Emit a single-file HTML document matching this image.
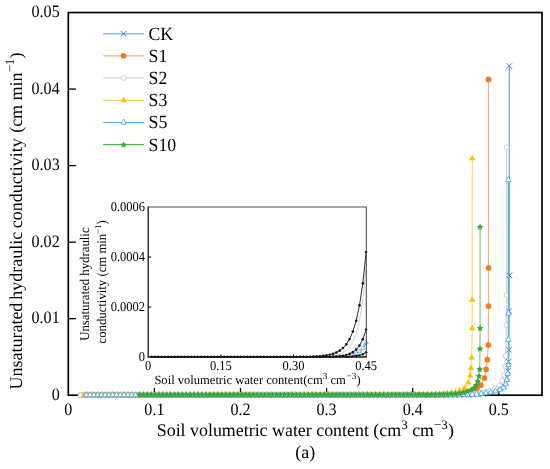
<!DOCTYPE html>
<html><head><meta charset="utf-8"><title>Unsaturated hydraulic conductivity</title>
<style>html,body{margin:0;padding:0;background:#fff;}svg{display:block;}text{font-family:"Liberation Serif",serif;fill:#000;text-rendering:geometricPrecision;}</style>
</head><body>
<svg width="550" height="469" viewBox="0 0 550 469">
<rect x="0" y="0" width="550" height="469" fill="#fff"/>
<g id="axes" stroke="#000" stroke-width="1.7" fill="none">
<rect x="68.3" y="12.55" width="473.70" height="382.65"/>
<line x1="68.3" y1="318.67" x2="75.90" y2="318.67" stroke-width="1.3"/>
<line x1="68.3" y1="242.14" x2="75.90" y2="242.14" stroke-width="1.3"/>
<line x1="68.3" y1="165.61" x2="75.90" y2="165.61" stroke-width="1.3"/>
<line x1="68.3" y1="89.08" x2="75.90" y2="89.08" stroke-width="1.3"/>
<line x1="154.40" y1="395.2" x2="154.40" y2="388.00" stroke-width="1.3"/>
<line x1="240.50" y1="395.2" x2="240.50" y2="388.00" stroke-width="1.3"/>
<line x1="326.60" y1="395.2" x2="326.60" y2="388.00" stroke-width="1.3"/>
<line x1="412.70" y1="395.2" x2="412.70" y2="388.00" stroke-width="1.3"/>
<line x1="498.80" y1="395.2" x2="498.80" y2="388.00" stroke-width="1.3"/>
</g>
<g id="series">
<path d="M88.00 395.10L91.73 395.10L95.47 395.10L99.21 395.10L102.97 395.10L106.73 395.10L110.51 395.10L114.29 395.10L118.08 395.10L121.88 395.10L125.69 395.10L129.51 395.10L133.34 395.10L137.18 395.10L141.03 395.10L144.88 395.10L148.74 395.10L152.62 395.10L156.50 395.10L160.39 395.10L164.29 395.10L168.20 395.10L172.12 395.10L176.05 395.10L179.98 395.10L183.93 395.10L187.88 395.10L191.85 395.10L195.82 395.10L199.80 395.10L203.79 395.10L207.79 395.10L211.80 395.10L215.81 395.10L219.84 395.10L223.88 395.10L227.92 395.10L231.97 395.10L236.04 395.10L240.11 395.10L244.19 395.10L248.28 395.10L252.38 395.10L256.48 395.10L260.60 395.10L264.73 395.10L268.86 395.10L273.00 395.10L277.16 395.10L281.32 395.10L285.49 395.10L289.67 395.10L293.86 395.10L298.06 395.10L302.26 395.10L306.48 395.10L310.70 395.10L314.94 395.10L319.18 395.10L323.43 395.10L327.69 395.10L331.96 395.10L336.24 395.10L340.53 395.10L344.83 395.10L349.13 395.10L353.45 395.10L357.77 395.10L362.10 395.10L366.45 395.10L370.80 395.10L375.16 395.10L379.53 395.10L383.90 395.10L388.29 395.10L392.69 395.10L397.09 395.10L401.51 395.10L405.93 395.10L410.36 395.10L414.80 395.09L419.25 395.09L423.71 395.09L428.18 395.08L432.66 395.07L437.14 395.06L441.64 395.05L446.14 395.02L450.65 394.99L455.18 394.94L459.71 394.87L464.25 394.77L468.80 394.63L473.36 394.43L477.92 394.13L482.50 393.70L487.10 392.90L491.80 391.80L496.40 390.40L500.80 388.50L504.00 385.90L505.80 382.40L507.00 377.60L507.90 370.90L508.60 361.60L509.00 349.80L509.20 311.00L509.30 275.30L509.30 66.00" fill="none" stroke="#6aa5e0" stroke-width="1.2" stroke-linejoin="round"/>
<path d="M85.20 392.30L90.80 397.90M85.20 397.90L90.80 392.30" stroke="#3674cc" stroke-width="0.95" fill="none"/><path d="M88.93 392.30L94.53 397.90M88.93 397.90L94.53 392.30" stroke="#3674cc" stroke-width="0.95" fill="none"/><path d="M92.67 392.30L98.27 397.90M92.67 397.90L98.27 392.30" stroke="#3674cc" stroke-width="0.95" fill="none"/><path d="M96.41 392.30L102.01 397.90M96.41 397.90L102.01 392.30" stroke="#3674cc" stroke-width="0.95" fill="none"/><path d="M100.17 392.30L105.77 397.90M100.17 397.90L105.77 392.30" stroke="#3674cc" stroke-width="0.95" fill="none"/><path d="M103.93 392.30L109.53 397.90M103.93 397.90L109.53 392.30" stroke="#3674cc" stroke-width="0.95" fill="none"/><path d="M107.71 392.30L113.31 397.90M107.71 397.90L113.31 392.30" stroke="#3674cc" stroke-width="0.95" fill="none"/><path d="M111.49 392.30L117.09 397.90M111.49 397.90L117.09 392.30" stroke="#3674cc" stroke-width="0.95" fill="none"/><path d="M115.28 392.30L120.88 397.90M115.28 397.90L120.88 392.30" stroke="#3674cc" stroke-width="0.95" fill="none"/><path d="M119.08 392.30L124.68 397.90M119.08 397.90L124.68 392.30" stroke="#3674cc" stroke-width="0.95" fill="none"/><path d="M122.89 392.30L128.49 397.90M122.89 397.90L128.49 392.30" stroke="#3674cc" stroke-width="0.95" fill="none"/><path d="M126.71 392.30L132.31 397.90M126.71 397.90L132.31 392.30" stroke="#3674cc" stroke-width="0.95" fill="none"/><path d="M130.54 392.30L136.14 397.90M130.54 397.90L136.14 392.30" stroke="#3674cc" stroke-width="0.95" fill="none"/><path d="M134.38 392.30L139.98 397.90M134.38 397.90L139.98 392.30" stroke="#3674cc" stroke-width="0.95" fill="none"/><path d="M138.23 392.30L143.83 397.90M138.23 397.90L143.83 392.30" stroke="#3674cc" stroke-width="0.95" fill="none"/><path d="M142.08 392.30L147.68 397.90M142.08 397.90L147.68 392.30" stroke="#3674cc" stroke-width="0.95" fill="none"/><path d="M145.94 392.30L151.54 397.90M145.94 397.90L151.54 392.30" stroke="#3674cc" stroke-width="0.95" fill="none"/><path d="M149.82 392.30L155.42 397.90M149.82 397.90L155.42 392.30" stroke="#3674cc" stroke-width="0.95" fill="none"/><path d="M153.70 392.30L159.30 397.90M153.70 397.90L159.30 392.30" stroke="#3674cc" stroke-width="0.95" fill="none"/><path d="M157.59 392.30L163.19 397.90M157.59 397.90L163.19 392.30" stroke="#3674cc" stroke-width="0.95" fill="none"/><path d="M161.49 392.30L167.09 397.90M161.49 397.90L167.09 392.30" stroke="#3674cc" stroke-width="0.95" fill="none"/><path d="M165.40 392.30L171.00 397.90M165.40 397.90L171.00 392.30" stroke="#3674cc" stroke-width="0.95" fill="none"/><path d="M169.32 392.30L174.92 397.90M169.32 397.90L174.92 392.30" stroke="#3674cc" stroke-width="0.95" fill="none"/><path d="M173.25 392.30L178.85 397.90M173.25 397.90L178.85 392.30" stroke="#3674cc" stroke-width="0.95" fill="none"/><path d="M177.18 392.30L182.78 397.90M177.18 397.90L182.78 392.30" stroke="#3674cc" stroke-width="0.95" fill="none"/><path d="M181.13 392.30L186.73 397.90M181.13 397.90L186.73 392.30" stroke="#3674cc" stroke-width="0.95" fill="none"/><path d="M185.08 392.30L190.68 397.90M185.08 397.90L190.68 392.30" stroke="#3674cc" stroke-width="0.95" fill="none"/><path d="M189.05 392.30L194.65 397.90M189.05 397.90L194.65 392.30" stroke="#3674cc" stroke-width="0.95" fill="none"/><path d="M193.02 392.30L198.62 397.90M193.02 397.90L198.62 392.30" stroke="#3674cc" stroke-width="0.95" fill="none"/><path d="M197.00 392.30L202.60 397.90M197.00 397.90L202.60 392.30" stroke="#3674cc" stroke-width="0.95" fill="none"/><path d="M200.99 392.30L206.59 397.90M200.99 397.90L206.59 392.30" stroke="#3674cc" stroke-width="0.95" fill="none"/><path d="M204.99 392.30L210.59 397.90M204.99 397.90L210.59 392.30" stroke="#3674cc" stroke-width="0.95" fill="none"/><path d="M209.00 392.30L214.60 397.90M209.00 397.90L214.60 392.30" stroke="#3674cc" stroke-width="0.95" fill="none"/><path d="M213.01 392.30L218.61 397.90M213.01 397.90L218.61 392.30" stroke="#3674cc" stroke-width="0.95" fill="none"/><path d="M217.04 392.30L222.64 397.90M217.04 397.90L222.64 392.30" stroke="#3674cc" stroke-width="0.95" fill="none"/><path d="M221.08 392.30L226.68 397.90M221.08 397.90L226.68 392.30" stroke="#3674cc" stroke-width="0.95" fill="none"/><path d="M225.12 392.30L230.72 397.90M225.12 397.90L230.72 392.30" stroke="#3674cc" stroke-width="0.95" fill="none"/><path d="M229.17 392.30L234.77 397.90M229.17 397.90L234.77 392.30" stroke="#3674cc" stroke-width="0.95" fill="none"/><path d="M233.24 392.30L238.84 397.90M233.24 397.90L238.84 392.30" stroke="#3674cc" stroke-width="0.95" fill="none"/><path d="M237.31 392.30L242.91 397.90M237.31 397.90L242.91 392.30" stroke="#3674cc" stroke-width="0.95" fill="none"/><path d="M241.39 392.30L246.99 397.90M241.39 397.90L246.99 392.30" stroke="#3674cc" stroke-width="0.95" fill="none"/><path d="M245.48 392.30L251.08 397.90M245.48 397.90L251.08 392.30" stroke="#3674cc" stroke-width="0.95" fill="none"/><path d="M249.58 392.30L255.18 397.90M249.58 397.90L255.18 392.30" stroke="#3674cc" stroke-width="0.95" fill="none"/><path d="M253.68 392.30L259.28 397.90M253.68 397.90L259.28 392.30" stroke="#3674cc" stroke-width="0.95" fill="none"/><path d="M257.80 392.30L263.40 397.90M257.80 397.90L263.40 392.30" stroke="#3674cc" stroke-width="0.95" fill="none"/><path d="M261.93 392.30L267.53 397.90M261.93 397.90L267.53 392.30" stroke="#3674cc" stroke-width="0.95" fill="none"/><path d="M266.06 392.30L271.66 397.90M266.06 397.90L271.66 392.30" stroke="#3674cc" stroke-width="0.95" fill="none"/><path d="M270.20 392.30L275.80 397.90M270.20 397.90L275.80 392.30" stroke="#3674cc" stroke-width="0.95" fill="none"/><path d="M274.36 392.30L279.96 397.90M274.36 397.90L279.96 392.30" stroke="#3674cc" stroke-width="0.95" fill="none"/><path d="M278.52 392.30L284.12 397.90M278.52 397.90L284.12 392.30" stroke="#3674cc" stroke-width="0.95" fill="none"/><path d="M282.69 392.30L288.29 397.90M282.69 397.90L288.29 392.30" stroke="#3674cc" stroke-width="0.95" fill="none"/><path d="M286.87 392.30L292.47 397.90M286.87 397.90L292.47 392.30" stroke="#3674cc" stroke-width="0.95" fill="none"/><path d="M291.06 392.30L296.66 397.90M291.06 397.90L296.66 392.30" stroke="#3674cc" stroke-width="0.95" fill="none"/><path d="M295.26 392.30L300.86 397.90M295.26 397.90L300.86 392.30" stroke="#3674cc" stroke-width="0.95" fill="none"/><path d="M299.46 392.30L305.06 397.90M299.46 397.90L305.06 392.30" stroke="#3674cc" stroke-width="0.95" fill="none"/><path d="M303.68 392.30L309.28 397.90M303.68 397.90L309.28 392.30" stroke="#3674cc" stroke-width="0.95" fill="none"/><path d="M307.90 392.30L313.50 397.90M307.90 397.90L313.50 392.30" stroke="#3674cc" stroke-width="0.95" fill="none"/><path d="M312.14 392.30L317.74 397.90M312.14 397.90L317.74 392.30" stroke="#3674cc" stroke-width="0.95" fill="none"/><path d="M316.38 392.30L321.98 397.90M316.38 397.90L321.98 392.30" stroke="#3674cc" stroke-width="0.95" fill="none"/><path d="M320.63 392.30L326.23 397.90M320.63 397.90L326.23 392.30" stroke="#3674cc" stroke-width="0.95" fill="none"/><path d="M324.89 392.30L330.49 397.90M324.89 397.90L330.49 392.30" stroke="#3674cc" stroke-width="0.95" fill="none"/><path d="M329.16 392.30L334.76 397.90M329.16 397.90L334.76 392.30" stroke="#3674cc" stroke-width="0.95" fill="none"/><path d="M333.44 392.30L339.04 397.90M333.44 397.90L339.04 392.30" stroke="#3674cc" stroke-width="0.95" fill="none"/><path d="M337.73 392.30L343.33 397.90M337.73 397.90L343.33 392.30" stroke="#3674cc" stroke-width="0.95" fill="none"/><path d="M342.03 392.30L347.63 397.90M342.03 397.90L347.63 392.30" stroke="#3674cc" stroke-width="0.95" fill="none"/><path d="M346.33 392.30L351.93 397.90M346.33 397.90L351.93 392.30" stroke="#3674cc" stroke-width="0.95" fill="none"/><path d="M350.65 392.30L356.25 397.90M350.65 397.90L356.25 392.30" stroke="#3674cc" stroke-width="0.95" fill="none"/><path d="M354.97 392.30L360.57 397.90M354.97 397.90L360.57 392.30" stroke="#3674cc" stroke-width="0.95" fill="none"/><path d="M359.30 392.30L364.90 397.90M359.30 397.90L364.90 392.30" stroke="#3674cc" stroke-width="0.95" fill="none"/><path d="M363.65 392.30L369.25 397.90M363.65 397.90L369.25 392.30" stroke="#3674cc" stroke-width="0.95" fill="none"/><path d="M368.00 392.30L373.60 397.90M368.00 397.90L373.60 392.30" stroke="#3674cc" stroke-width="0.95" fill="none"/><path d="M372.36 392.30L377.96 397.90M372.36 397.90L377.96 392.30" stroke="#3674cc" stroke-width="0.95" fill="none"/><path d="M376.73 392.30L382.33 397.90M376.73 397.90L382.33 392.30" stroke="#3674cc" stroke-width="0.95" fill="none"/><path d="M381.10 392.30L386.70 397.90M381.10 397.90L386.70 392.30" stroke="#3674cc" stroke-width="0.95" fill="none"/><path d="M385.49 392.30L391.09 397.90M385.49 397.90L391.09 392.30" stroke="#3674cc" stroke-width="0.95" fill="none"/><path d="M389.89 392.30L395.49 397.90M389.89 397.90L395.49 392.30" stroke="#3674cc" stroke-width="0.95" fill="none"/><path d="M394.29 392.30L399.89 397.90M394.29 397.90L399.89 392.30" stroke="#3674cc" stroke-width="0.95" fill="none"/><path d="M398.71 392.30L404.31 397.90M398.71 397.90L404.31 392.30" stroke="#3674cc" stroke-width="0.95" fill="none"/><path d="M403.13 392.30L408.73 397.90M403.13 397.90L408.73 392.30" stroke="#3674cc" stroke-width="0.95" fill="none"/><path d="M407.56 392.30L413.16 397.90M407.56 397.90L413.16 392.30" stroke="#3674cc" stroke-width="0.95" fill="none"/><path d="M412.00 392.29L417.60 397.89M412.00 397.89L417.60 392.29" stroke="#3674cc" stroke-width="0.95" fill="none"/><path d="M416.45 392.29L422.05 397.89M416.45 397.89L422.05 392.29" stroke="#3674cc" stroke-width="0.95" fill="none"/><path d="M420.91 392.29L426.51 397.89M420.91 397.89L426.51 392.29" stroke="#3674cc" stroke-width="0.95" fill="none"/><path d="M425.38 392.28L430.98 397.88M425.38 397.88L430.98 392.28" stroke="#3674cc" stroke-width="0.95" fill="none"/><path d="M429.86 392.27L435.46 397.87M429.86 397.87L435.46 392.27" stroke="#3674cc" stroke-width="0.95" fill="none"/><path d="M434.34 392.26L439.94 397.86M434.34 397.86L439.94 392.26" stroke="#3674cc" stroke-width="0.95" fill="none"/><path d="M438.84 392.25L444.44 397.85M438.84 397.85L444.44 392.25" stroke="#3674cc" stroke-width="0.95" fill="none"/><path d="M443.34 392.22L448.94 397.82M443.34 397.82L448.94 392.22" stroke="#3674cc" stroke-width="0.95" fill="none"/><path d="M447.85 392.19L453.45 397.79M447.85 397.79L453.45 392.19" stroke="#3674cc" stroke-width="0.95" fill="none"/><path d="M452.38 392.14L457.98 397.74M452.38 397.74L457.98 392.14" stroke="#3674cc" stroke-width="0.95" fill="none"/><path d="M456.91 392.07L462.51 397.67M456.91 397.67L462.51 392.07" stroke="#3674cc" stroke-width="0.95" fill="none"/><path d="M461.45 391.97L467.05 397.57M461.45 397.57L467.05 391.97" stroke="#3674cc" stroke-width="0.95" fill="none"/><path d="M466.00 391.83L471.60 397.43M466.00 397.43L471.60 391.83" stroke="#3674cc" stroke-width="0.95" fill="none"/><path d="M470.56 391.63L476.16 397.23M470.56 397.23L476.16 391.63" stroke="#3674cc" stroke-width="0.95" fill="none"/><path d="M475.12 391.33L480.72 396.93M475.12 396.93L480.72 391.33" stroke="#3674cc" stroke-width="0.95" fill="none"/><path d="M479.70 390.90L485.30 396.50M479.70 396.50L485.30 390.90" stroke="#3674cc" stroke-width="0.95" fill="none"/><path d="M484.30 390.10L489.90 395.70M484.30 395.70L489.90 390.10" stroke="#3674cc" stroke-width="0.95" fill="none"/><path d="M489.00 389.00L494.60 394.60M489.00 394.60L494.60 389.00" stroke="#3674cc" stroke-width="0.95" fill="none"/><path d="M493.60 387.60L499.20 393.20M493.60 393.20L499.20 387.60" stroke="#3674cc" stroke-width="0.95" fill="none"/><path d="M498.00 385.70L503.60 391.30M498.00 391.30L503.60 385.70" stroke="#3674cc" stroke-width="0.95" fill="none"/><path d="M501.20 383.10L506.80 388.70M501.20 388.70L506.80 383.10" stroke="#3674cc" stroke-width="0.95" fill="none"/><path d="M503.00 379.60L508.60 385.20M503.00 385.20L508.60 379.60" stroke="#3674cc" stroke-width="0.95" fill="none"/><path d="M504.20 374.80L509.80 380.40M504.20 380.40L509.80 374.80" stroke="#3674cc" stroke-width="0.95" fill="none"/><path d="M505.10 368.10L510.70 373.70M505.10 373.70L510.70 368.10" stroke="#3674cc" stroke-width="0.95" fill="none"/><path d="M505.80 358.80L511.40 364.40M505.80 364.40L511.40 358.80" stroke="#3674cc" stroke-width="0.95" fill="none"/><path d="M506.20 347.00L511.80 352.60M506.20 352.60L511.80 347.00" stroke="#3674cc" stroke-width="0.95" fill="none"/><path d="M506.40 308.20L512.00 313.80M506.40 313.80L512.00 308.20" stroke="#3674cc" stroke-width="0.95" fill="none"/><path d="M506.50 272.50L512.10 278.10M506.50 278.10L512.10 272.50" stroke="#3674cc" stroke-width="0.95" fill="none"/><path d="M506.50 63.20L512.10 68.80M506.50 68.80L512.10 63.20" stroke="#3674cc" stroke-width="0.95" fill="none"/>
<path d="M80.60 395.10L84.35 395.10L88.11 395.10L91.87 395.10L95.63 395.10L99.39 395.10L103.16 395.10L106.92 395.10L110.70 395.10L114.47 395.10L118.25 395.10L122.03 395.10L125.81 395.10L129.59 395.10L133.38 395.10L137.17 395.10L140.96 395.10L144.75 395.10L148.55 395.10L152.35 395.10L156.16 395.10L159.96 395.10L163.77 395.10L167.58 395.10L171.39 395.10L175.21 395.10L179.03 395.10L182.85 395.10L186.67 395.10L190.50 395.10L194.33 395.10L198.16 395.10L201.99 395.10L205.83 395.10L209.67 395.10L213.51 395.10L217.36 395.10L221.21 395.10L225.06 395.10L228.91 395.10L232.76 395.10L236.62 395.10L240.48 395.10L244.35 395.10L248.21 395.10L252.08 395.10L255.95 395.10L259.83 395.10L263.70 395.10L267.58 395.10L271.46 395.10L275.35 395.10L279.24 395.10L283.13 395.10L287.02 395.10L290.91 395.10L294.81 395.10L298.71 395.10L302.61 395.10L306.52 395.10L310.43 395.10L314.34 395.10L318.25 395.10L322.17 395.10L326.09 395.10L330.01 395.10L333.93 395.10L337.86 395.10L341.79 395.10L345.72 395.10L349.65 395.10L353.59 395.10L357.53 395.10L361.47 395.10L365.42 395.10L369.37 395.10L373.32 395.10L377.27 395.10L381.22 395.10L385.18 395.10L389.14 395.10L393.11 395.09L397.07 395.09L401.04 395.09L405.01 395.08L408.99 395.08L412.96 395.07L416.94 395.06L420.93 395.04L424.91 395.02L428.90 394.99L432.89 394.95L436.88 394.89L440.87 394.81L444.87 394.70L448.87 394.55L452.88 394.34L456.88 394.05L460.89 393.65L464.90 393.10L468.90 392.20L472.90 390.80L476.90 388.60L480.80 385.20L484.40 378.00L486.10 369.40L487.30 359.70L488.30 345.00L488.50 306.10L488.50 267.80L488.50 79.40" fill="none" stroke="#f6ac7c" stroke-width="1.2" stroke-linejoin="round"/>
<circle cx="80.60" cy="395.10" r="2.85" fill="#f47a20"/><circle cx="84.35" cy="395.10" r="2.85" fill="#f47a20"/><circle cx="88.11" cy="395.10" r="2.85" fill="#f47a20"/><circle cx="91.87" cy="395.10" r="2.85" fill="#f47a20"/><circle cx="95.63" cy="395.10" r="2.85" fill="#f47a20"/><circle cx="99.39" cy="395.10" r="2.85" fill="#f47a20"/><circle cx="103.16" cy="395.10" r="2.85" fill="#f47a20"/><circle cx="106.92" cy="395.10" r="2.85" fill="#f47a20"/><circle cx="110.70" cy="395.10" r="2.85" fill="#f47a20"/><circle cx="114.47" cy="395.10" r="2.85" fill="#f47a20"/><circle cx="118.25" cy="395.10" r="2.85" fill="#f47a20"/><circle cx="122.03" cy="395.10" r="2.85" fill="#f47a20"/><circle cx="125.81" cy="395.10" r="2.85" fill="#f47a20"/><circle cx="129.59" cy="395.10" r="2.85" fill="#f47a20"/><circle cx="133.38" cy="395.10" r="2.85" fill="#f47a20"/><circle cx="137.17" cy="395.10" r="2.85" fill="#f47a20"/><circle cx="140.96" cy="395.10" r="2.85" fill="#f47a20"/><circle cx="144.75" cy="395.10" r="2.85" fill="#f47a20"/><circle cx="148.55" cy="395.10" r="2.85" fill="#f47a20"/><circle cx="152.35" cy="395.10" r="2.85" fill="#f47a20"/><circle cx="156.16" cy="395.10" r="2.85" fill="#f47a20"/><circle cx="159.96" cy="395.10" r="2.85" fill="#f47a20"/><circle cx="163.77" cy="395.10" r="2.85" fill="#f47a20"/><circle cx="167.58" cy="395.10" r="2.85" fill="#f47a20"/><circle cx="171.39" cy="395.10" r="2.85" fill="#f47a20"/><circle cx="175.21" cy="395.10" r="2.85" fill="#f47a20"/><circle cx="179.03" cy="395.10" r="2.85" fill="#f47a20"/><circle cx="182.85" cy="395.10" r="2.85" fill="#f47a20"/><circle cx="186.67" cy="395.10" r="2.85" fill="#f47a20"/><circle cx="190.50" cy="395.10" r="2.85" fill="#f47a20"/><circle cx="194.33" cy="395.10" r="2.85" fill="#f47a20"/><circle cx="198.16" cy="395.10" r="2.85" fill="#f47a20"/><circle cx="201.99" cy="395.10" r="2.85" fill="#f47a20"/><circle cx="205.83" cy="395.10" r="2.85" fill="#f47a20"/><circle cx="209.67" cy="395.10" r="2.85" fill="#f47a20"/><circle cx="213.51" cy="395.10" r="2.85" fill="#f47a20"/><circle cx="217.36" cy="395.10" r="2.85" fill="#f47a20"/><circle cx="221.21" cy="395.10" r="2.85" fill="#f47a20"/><circle cx="225.06" cy="395.10" r="2.85" fill="#f47a20"/><circle cx="228.91" cy="395.10" r="2.85" fill="#f47a20"/><circle cx="232.76" cy="395.10" r="2.85" fill="#f47a20"/><circle cx="236.62" cy="395.10" r="2.85" fill="#f47a20"/><circle cx="240.48" cy="395.10" r="2.85" fill="#f47a20"/><circle cx="244.35" cy="395.10" r="2.85" fill="#f47a20"/><circle cx="248.21" cy="395.10" r="2.85" fill="#f47a20"/><circle cx="252.08" cy="395.10" r="2.85" fill="#f47a20"/><circle cx="255.95" cy="395.10" r="2.85" fill="#f47a20"/><circle cx="259.83" cy="395.10" r="2.85" fill="#f47a20"/><circle cx="263.70" cy="395.10" r="2.85" fill="#f47a20"/><circle cx="267.58" cy="395.10" r="2.85" fill="#f47a20"/><circle cx="271.46" cy="395.10" r="2.85" fill="#f47a20"/><circle cx="275.35" cy="395.10" r="2.85" fill="#f47a20"/><circle cx="279.24" cy="395.10" r="2.85" fill="#f47a20"/><circle cx="283.13" cy="395.10" r="2.85" fill="#f47a20"/><circle cx="287.02" cy="395.10" r="2.85" fill="#f47a20"/><circle cx="290.91" cy="395.10" r="2.85" fill="#f47a20"/><circle cx="294.81" cy="395.10" r="2.85" fill="#f47a20"/><circle cx="298.71" cy="395.10" r="2.85" fill="#f47a20"/><circle cx="302.61" cy="395.10" r="2.85" fill="#f47a20"/><circle cx="306.52" cy="395.10" r="2.85" fill="#f47a20"/><circle cx="310.43" cy="395.10" r="2.85" fill="#f47a20"/><circle cx="314.34" cy="395.10" r="2.85" fill="#f47a20"/><circle cx="318.25" cy="395.10" r="2.85" fill="#f47a20"/><circle cx="322.17" cy="395.10" r="2.85" fill="#f47a20"/><circle cx="326.09" cy="395.10" r="2.85" fill="#f47a20"/><circle cx="330.01" cy="395.10" r="2.85" fill="#f47a20"/><circle cx="333.93" cy="395.10" r="2.85" fill="#f47a20"/><circle cx="337.86" cy="395.10" r="2.85" fill="#f47a20"/><circle cx="341.79" cy="395.10" r="2.85" fill="#f47a20"/><circle cx="345.72" cy="395.10" r="2.85" fill="#f47a20"/><circle cx="349.65" cy="395.10" r="2.85" fill="#f47a20"/><circle cx="353.59" cy="395.10" r="2.85" fill="#f47a20"/><circle cx="357.53" cy="395.10" r="2.85" fill="#f47a20"/><circle cx="361.47" cy="395.10" r="2.85" fill="#f47a20"/><circle cx="365.42" cy="395.10" r="2.85" fill="#f47a20"/><circle cx="369.37" cy="395.10" r="2.85" fill="#f47a20"/><circle cx="373.32" cy="395.10" r="2.85" fill="#f47a20"/><circle cx="377.27" cy="395.10" r="2.85" fill="#f47a20"/><circle cx="381.22" cy="395.10" r="2.85" fill="#f47a20"/><circle cx="385.18" cy="395.10" r="2.85" fill="#f47a20"/><circle cx="389.14" cy="395.10" r="2.85" fill="#f47a20"/><circle cx="393.11" cy="395.09" r="2.85" fill="#f47a20"/><circle cx="397.07" cy="395.09" r="2.85" fill="#f47a20"/><circle cx="401.04" cy="395.09" r="2.85" fill="#f47a20"/><circle cx="405.01" cy="395.08" r="2.85" fill="#f47a20"/><circle cx="408.99" cy="395.08" r="2.85" fill="#f47a20"/><circle cx="412.96" cy="395.07" r="2.85" fill="#f47a20"/><circle cx="416.94" cy="395.06" r="2.85" fill="#f47a20"/><circle cx="420.93" cy="395.04" r="2.85" fill="#f47a20"/><circle cx="424.91" cy="395.02" r="2.85" fill="#f47a20"/><circle cx="428.90" cy="394.99" r="2.85" fill="#f47a20"/><circle cx="432.89" cy="394.95" r="2.85" fill="#f47a20"/><circle cx="436.88" cy="394.89" r="2.85" fill="#f47a20"/><circle cx="440.87" cy="394.81" r="2.85" fill="#f47a20"/><circle cx="444.87" cy="394.70" r="2.85" fill="#f47a20"/><circle cx="448.87" cy="394.55" r="2.85" fill="#f47a20"/><circle cx="452.88" cy="394.34" r="2.85" fill="#f47a20"/><circle cx="456.88" cy="394.05" r="2.85" fill="#f47a20"/><circle cx="460.89" cy="393.65" r="2.85" fill="#f47a20"/><circle cx="464.90" cy="393.10" r="2.85" fill="#f47a20"/><circle cx="468.90" cy="392.20" r="2.85" fill="#f47a20"/><circle cx="472.90" cy="390.80" r="2.85" fill="#f47a20"/><circle cx="476.90" cy="388.60" r="2.85" fill="#f47a20"/><circle cx="480.80" cy="385.20" r="2.85" fill="#f47a20"/><circle cx="484.40" cy="378.00" r="2.85" fill="#f47a20"/><circle cx="486.10" cy="369.40" r="2.85" fill="#f47a20"/><circle cx="487.30" cy="359.70" r="2.85" fill="#f47a20"/><circle cx="488.30" cy="345.00" r="2.85" fill="#f47a20"/><circle cx="488.50" cy="306.10" r="2.85" fill="#f47a20"/><circle cx="488.50" cy="267.80" r="2.85" fill="#f47a20"/><circle cx="488.50" cy="79.40" r="2.85" fill="#f47a20"/>
<path d="M80.60 395.10L84.35 395.10L88.11 395.10L91.88 395.10L95.66 395.10L99.44 395.10L103.23 395.10L107.02 395.10L110.82 395.10L114.63 395.10L118.45 395.10L122.27 395.10L126.10 395.10L129.94 395.10L133.78 395.10L137.63 395.10L141.49 395.10L145.35 395.10L149.22 395.10L153.10 395.10L156.99 395.10L160.88 395.10L164.78 395.10L168.68 395.10L172.59 395.10L176.51 395.10L180.44 395.10L184.37 395.10L188.31 395.10L192.26 395.10L196.21 395.10L200.17 395.10L204.14 395.10L208.11 395.10L212.10 395.10L216.08 395.10L220.08 395.10L224.08 395.10L228.09 395.10L232.11 395.10L236.13 395.10L240.16 395.10L244.19 395.10L248.24 395.10L252.29 395.10L256.35 395.10L260.41 395.10L264.48 395.10L268.56 395.10L272.64 395.10L276.73 395.10L280.83 395.10L284.94 395.10L289.05 395.10L293.17 395.10L297.30 395.10L301.43 395.10L305.57 395.10L309.72 395.10L313.87 395.10L318.03 395.10L322.20 395.10L326.37 395.10L330.55 395.10L334.74 395.10L338.94 395.10L343.14 395.10L347.35 395.10L351.56 395.10L355.78 395.10L360.01 395.10L364.25 395.10L368.49 395.10L372.74 395.10L377.00 395.10L381.26 395.10L385.54 395.10L389.81 395.10L394.10 395.10L398.39 395.10L402.69 395.10L406.99 395.09L411.31 395.09L415.62 395.09L419.95 395.08L424.28 395.07L428.62 395.06L432.97 395.04L437.32 395.02L441.68 394.99L446.05 394.94L450.43 394.88L454.81 394.78L459.19 394.65L463.59 394.46L467.99 394.19L472.40 393.80L476.80 393.30L481.30 392.60L485.90 391.60L490.60 390.20L495.20 388.30L499.50 385.40L502.30 380.80L504.00 375.00L505.20 366.50L505.60 356.00L506.40 325.00L506.60 295.00L506.60 147.20" fill="none" stroke="#d2d2d2" stroke-width="1.2" stroke-linejoin="round"/>
<circle cx="80.60" cy="395.10" r="2.45" fill="#fff" stroke="#c6c6c6" stroke-width="0.8"/><circle cx="84.35" cy="395.10" r="2.45" fill="#fff" stroke="#c6c6c6" stroke-width="0.8"/><circle cx="88.11" cy="395.10" r="2.45" fill="#fff" stroke="#c6c6c6" stroke-width="0.8"/><circle cx="91.88" cy="395.10" r="2.45" fill="#fff" stroke="#c6c6c6" stroke-width="0.8"/><circle cx="95.66" cy="395.10" r="2.45" fill="#fff" stroke="#c6c6c6" stroke-width="0.8"/><circle cx="99.44" cy="395.10" r="2.45" fill="#fff" stroke="#c6c6c6" stroke-width="0.8"/><circle cx="103.23" cy="395.10" r="2.45" fill="#fff" stroke="#c6c6c6" stroke-width="0.8"/><circle cx="107.02" cy="395.10" r="2.45" fill="#fff" stroke="#c6c6c6" stroke-width="0.8"/><circle cx="110.82" cy="395.10" r="2.45" fill="#fff" stroke="#c6c6c6" stroke-width="0.8"/><circle cx="114.63" cy="395.10" r="2.45" fill="#fff" stroke="#c6c6c6" stroke-width="0.8"/><circle cx="118.45" cy="395.10" r="2.45" fill="#fff" stroke="#c6c6c6" stroke-width="0.8"/><circle cx="122.27" cy="395.10" r="2.45" fill="#fff" stroke="#c6c6c6" stroke-width="0.8"/><circle cx="126.10" cy="395.10" r="2.45" fill="#fff" stroke="#c6c6c6" stroke-width="0.8"/><circle cx="129.94" cy="395.10" r="2.45" fill="#fff" stroke="#c6c6c6" stroke-width="0.8"/><circle cx="133.78" cy="395.10" r="2.45" fill="#fff" stroke="#c6c6c6" stroke-width="0.8"/><circle cx="137.63" cy="395.10" r="2.45" fill="#fff" stroke="#c6c6c6" stroke-width="0.8"/><circle cx="141.49" cy="395.10" r="2.45" fill="#fff" stroke="#c6c6c6" stroke-width="0.8"/><circle cx="145.35" cy="395.10" r="2.45" fill="#fff" stroke="#c6c6c6" stroke-width="0.8"/><circle cx="149.22" cy="395.10" r="2.45" fill="#fff" stroke="#c6c6c6" stroke-width="0.8"/><circle cx="153.10" cy="395.10" r="2.45" fill="#fff" stroke="#c6c6c6" stroke-width="0.8"/><circle cx="156.99" cy="395.10" r="2.45" fill="#fff" stroke="#c6c6c6" stroke-width="0.8"/><circle cx="160.88" cy="395.10" r="2.45" fill="#fff" stroke="#c6c6c6" stroke-width="0.8"/><circle cx="164.78" cy="395.10" r="2.45" fill="#fff" stroke="#c6c6c6" stroke-width="0.8"/><circle cx="168.68" cy="395.10" r="2.45" fill="#fff" stroke="#c6c6c6" stroke-width="0.8"/><circle cx="172.59" cy="395.10" r="2.45" fill="#fff" stroke="#c6c6c6" stroke-width="0.8"/><circle cx="176.51" cy="395.10" r="2.45" fill="#fff" stroke="#c6c6c6" stroke-width="0.8"/><circle cx="180.44" cy="395.10" r="2.45" fill="#fff" stroke="#c6c6c6" stroke-width="0.8"/><circle cx="184.37" cy="395.10" r="2.45" fill="#fff" stroke="#c6c6c6" stroke-width="0.8"/><circle cx="188.31" cy="395.10" r="2.45" fill="#fff" stroke="#c6c6c6" stroke-width="0.8"/><circle cx="192.26" cy="395.10" r="2.45" fill="#fff" stroke="#c6c6c6" stroke-width="0.8"/><circle cx="196.21" cy="395.10" r="2.45" fill="#fff" stroke="#c6c6c6" stroke-width="0.8"/><circle cx="200.17" cy="395.10" r="2.45" fill="#fff" stroke="#c6c6c6" stroke-width="0.8"/><circle cx="204.14" cy="395.10" r="2.45" fill="#fff" stroke="#c6c6c6" stroke-width="0.8"/><circle cx="208.11" cy="395.10" r="2.45" fill="#fff" stroke="#c6c6c6" stroke-width="0.8"/><circle cx="212.10" cy="395.10" r="2.45" fill="#fff" stroke="#c6c6c6" stroke-width="0.8"/><circle cx="216.08" cy="395.10" r="2.45" fill="#fff" stroke="#c6c6c6" stroke-width="0.8"/><circle cx="220.08" cy="395.10" r="2.45" fill="#fff" stroke="#c6c6c6" stroke-width="0.8"/><circle cx="224.08" cy="395.10" r="2.45" fill="#fff" stroke="#c6c6c6" stroke-width="0.8"/><circle cx="228.09" cy="395.10" r="2.45" fill="#fff" stroke="#c6c6c6" stroke-width="0.8"/><circle cx="232.11" cy="395.10" r="2.45" fill="#fff" stroke="#c6c6c6" stroke-width="0.8"/><circle cx="236.13" cy="395.10" r="2.45" fill="#fff" stroke="#c6c6c6" stroke-width="0.8"/><circle cx="240.16" cy="395.10" r="2.45" fill="#fff" stroke="#c6c6c6" stroke-width="0.8"/><circle cx="244.19" cy="395.10" r="2.45" fill="#fff" stroke="#c6c6c6" stroke-width="0.8"/><circle cx="248.24" cy="395.10" r="2.45" fill="#fff" stroke="#c6c6c6" stroke-width="0.8"/><circle cx="252.29" cy="395.10" r="2.45" fill="#fff" stroke="#c6c6c6" stroke-width="0.8"/><circle cx="256.35" cy="395.10" r="2.45" fill="#fff" stroke="#c6c6c6" stroke-width="0.8"/><circle cx="260.41" cy="395.10" r="2.45" fill="#fff" stroke="#c6c6c6" stroke-width="0.8"/><circle cx="264.48" cy="395.10" r="2.45" fill="#fff" stroke="#c6c6c6" stroke-width="0.8"/><circle cx="268.56" cy="395.10" r="2.45" fill="#fff" stroke="#c6c6c6" stroke-width="0.8"/><circle cx="272.64" cy="395.10" r="2.45" fill="#fff" stroke="#c6c6c6" stroke-width="0.8"/><circle cx="276.73" cy="395.10" r="2.45" fill="#fff" stroke="#c6c6c6" stroke-width="0.8"/><circle cx="280.83" cy="395.10" r="2.45" fill="#fff" stroke="#c6c6c6" stroke-width="0.8"/><circle cx="284.94" cy="395.10" r="2.45" fill="#fff" stroke="#c6c6c6" stroke-width="0.8"/><circle cx="289.05" cy="395.10" r="2.45" fill="#fff" stroke="#c6c6c6" stroke-width="0.8"/><circle cx="293.17" cy="395.10" r="2.45" fill="#fff" stroke="#c6c6c6" stroke-width="0.8"/><circle cx="297.30" cy="395.10" r="2.45" fill="#fff" stroke="#c6c6c6" stroke-width="0.8"/><circle cx="301.43" cy="395.10" r="2.45" fill="#fff" stroke="#c6c6c6" stroke-width="0.8"/><circle cx="305.57" cy="395.10" r="2.45" fill="#fff" stroke="#c6c6c6" stroke-width="0.8"/><circle cx="309.72" cy="395.10" r="2.45" fill="#fff" stroke="#c6c6c6" stroke-width="0.8"/><circle cx="313.87" cy="395.10" r="2.45" fill="#fff" stroke="#c6c6c6" stroke-width="0.8"/><circle cx="318.03" cy="395.10" r="2.45" fill="#fff" stroke="#c6c6c6" stroke-width="0.8"/><circle cx="322.20" cy="395.10" r="2.45" fill="#fff" stroke="#c6c6c6" stroke-width="0.8"/><circle cx="326.37" cy="395.10" r="2.45" fill="#fff" stroke="#c6c6c6" stroke-width="0.8"/><circle cx="330.55" cy="395.10" r="2.45" fill="#fff" stroke="#c6c6c6" stroke-width="0.8"/><circle cx="334.74" cy="395.10" r="2.45" fill="#fff" stroke="#c6c6c6" stroke-width="0.8"/><circle cx="338.94" cy="395.10" r="2.45" fill="#fff" stroke="#c6c6c6" stroke-width="0.8"/><circle cx="343.14" cy="395.10" r="2.45" fill="#fff" stroke="#c6c6c6" stroke-width="0.8"/><circle cx="347.35" cy="395.10" r="2.45" fill="#fff" stroke="#c6c6c6" stroke-width="0.8"/><circle cx="351.56" cy="395.10" r="2.45" fill="#fff" stroke="#c6c6c6" stroke-width="0.8"/><circle cx="355.78" cy="395.10" r="2.45" fill="#fff" stroke="#c6c6c6" stroke-width="0.8"/><circle cx="360.01" cy="395.10" r="2.45" fill="#fff" stroke="#c6c6c6" stroke-width="0.8"/><circle cx="364.25" cy="395.10" r="2.45" fill="#fff" stroke="#c6c6c6" stroke-width="0.8"/><circle cx="368.49" cy="395.10" r="2.45" fill="#fff" stroke="#c6c6c6" stroke-width="0.8"/><circle cx="372.74" cy="395.10" r="2.45" fill="#fff" stroke="#c6c6c6" stroke-width="0.8"/><circle cx="377.00" cy="395.10" r="2.45" fill="#fff" stroke="#c6c6c6" stroke-width="0.8"/><circle cx="381.26" cy="395.10" r="2.45" fill="#fff" stroke="#c6c6c6" stroke-width="0.8"/><circle cx="385.54" cy="395.10" r="2.45" fill="#fff" stroke="#c6c6c6" stroke-width="0.8"/><circle cx="389.81" cy="395.10" r="2.45" fill="#fff" stroke="#c6c6c6" stroke-width="0.8"/><circle cx="394.10" cy="395.10" r="2.45" fill="#fff" stroke="#c6c6c6" stroke-width="0.8"/><circle cx="398.39" cy="395.10" r="2.45" fill="#fff" stroke="#c6c6c6" stroke-width="0.8"/><circle cx="402.69" cy="395.10" r="2.45" fill="#fff" stroke="#c6c6c6" stroke-width="0.8"/><circle cx="406.99" cy="395.09" r="2.45" fill="#fff" stroke="#c6c6c6" stroke-width="0.8"/><circle cx="411.31" cy="395.09" r="2.45" fill="#fff" stroke="#c6c6c6" stroke-width="0.8"/><circle cx="415.62" cy="395.09" r="2.45" fill="#fff" stroke="#c6c6c6" stroke-width="0.8"/><circle cx="419.95" cy="395.08" r="2.45" fill="#fff" stroke="#c6c6c6" stroke-width="0.8"/><circle cx="424.28" cy="395.07" r="2.45" fill="#fff" stroke="#c6c6c6" stroke-width="0.8"/><circle cx="428.62" cy="395.06" r="2.45" fill="#fff" stroke="#c6c6c6" stroke-width="0.8"/><circle cx="432.97" cy="395.04" r="2.45" fill="#fff" stroke="#c6c6c6" stroke-width="0.8"/><circle cx="437.32" cy="395.02" r="2.45" fill="#fff" stroke="#c6c6c6" stroke-width="0.8"/><circle cx="441.68" cy="394.99" r="2.45" fill="#fff" stroke="#c6c6c6" stroke-width="0.8"/><circle cx="446.05" cy="394.94" r="2.45" fill="#fff" stroke="#c6c6c6" stroke-width="0.8"/><circle cx="450.43" cy="394.88" r="2.45" fill="#fff" stroke="#c6c6c6" stroke-width="0.8"/><circle cx="454.81" cy="394.78" r="2.45" fill="#fff" stroke="#c6c6c6" stroke-width="0.8"/><circle cx="459.19" cy="394.65" r="2.45" fill="#fff" stroke="#c6c6c6" stroke-width="0.8"/><circle cx="463.59" cy="394.46" r="2.45" fill="#fff" stroke="#c6c6c6" stroke-width="0.8"/><circle cx="467.99" cy="394.19" r="2.45" fill="#fff" stroke="#c6c6c6" stroke-width="0.8"/><circle cx="472.40" cy="393.80" r="2.45" fill="#fff" stroke="#c6c6c6" stroke-width="0.8"/><circle cx="476.80" cy="393.30" r="2.45" fill="#fff" stroke="#c6c6c6" stroke-width="0.8"/><circle cx="481.30" cy="392.60" r="2.45" fill="#fff" stroke="#c6c6c6" stroke-width="0.8"/><circle cx="485.90" cy="391.60" r="2.45" fill="#fff" stroke="#c6c6c6" stroke-width="0.8"/><circle cx="490.60" cy="390.20" r="2.45" fill="#fff" stroke="#c6c6c6" stroke-width="0.8"/><circle cx="495.20" cy="388.30" r="2.45" fill="#fff" stroke="#c6c6c6" stroke-width="0.8"/><circle cx="499.50" cy="385.40" r="2.45" fill="#fff" stroke="#c6c6c6" stroke-width="0.8"/><circle cx="502.30" cy="380.80" r="2.45" fill="#fff" stroke="#c6c6c6" stroke-width="0.8"/><circle cx="504.00" cy="375.00" r="2.45" fill="#fff" stroke="#c6c6c6" stroke-width="0.8"/><circle cx="505.20" cy="366.50" r="2.45" fill="#fff" stroke="#c6c6c6" stroke-width="0.8"/><circle cx="505.60" cy="356.00" r="2.45" fill="#fff" stroke="#c6c6c6" stroke-width="0.8"/><circle cx="506.40" cy="325.00" r="2.45" fill="#fff" stroke="#c6c6c6" stroke-width="0.8"/><circle cx="506.60" cy="295.00" r="2.45" fill="#fff" stroke="#c6c6c6" stroke-width="0.8"/><circle cx="506.60" cy="147.20" r="2.45" fill="#fff" stroke="#c6c6c6" stroke-width="0.8"/>
<path d="M84.00 395.10L87.72 395.10L91.45 395.10L95.19 395.10L98.92 395.10L102.66 395.10L106.41 395.10L110.16 395.10L113.91 395.10L117.67 395.10L121.43 395.10L125.19 395.10L128.96 395.10L132.73 395.10L136.51 395.10L140.29 395.10L144.07 395.10L147.86 395.10L151.65 395.10L155.45 395.10L159.25 395.10L163.05 395.10L166.86 395.10L170.67 395.10L174.49 395.10L178.31 395.10L182.13 395.10L185.96 395.10L189.79 395.10L193.62 395.10L197.46 395.10L201.31 395.10L205.15 395.10L209.00 395.10L212.86 395.10L216.72 395.10L220.58 395.10L224.45 395.10L228.32 395.10L232.19 395.10L236.07 395.10L239.95 395.10L243.84 395.10L247.73 395.10L251.62 395.10L255.52 395.10L259.43 395.10L263.33 395.10L267.24 395.10L271.16 395.10L275.07 395.10L279.00 395.10L282.92 395.10L286.85 395.10L290.78 395.10L294.72 395.10L298.66 395.10L302.61 395.10L306.56 395.10L310.51 395.10L314.47 395.10L318.43 395.10L322.40 395.10L326.37 395.10L330.34 395.10L334.32 395.10L338.30 395.10L342.28 395.10L346.27 395.10L350.26 395.10L354.26 395.10L358.26 395.10L362.26 395.10L366.27 395.10L370.29 395.10L374.30 395.10L378.32 395.09L382.35 395.09L386.37 395.09L390.41 395.08L394.44 395.08L398.48 395.07L402.53 395.06L406.57 395.04L410.63 395.02L414.68 394.99L418.74 394.94L422.81 394.88L426.87 394.80L430.95 394.68L435.02 394.52L439.10 394.30L443.20 394.00L447.30 393.60L451.50 392.90L455.60 392.20L459.60 390.70L464.40 388.20L468.40 382.70L470.20 375.80L470.90 368.30L471.70 357.80L472.10 328.50L472.20 300.00L472.30 158.50" fill="none" stroke="#ffda70" stroke-width="1.2" stroke-linejoin="round"/>
<path d="M84.00 391.30L87.10 396.90L80.90 396.90Z" fill="#ffc000"/><path d="M87.72 391.30L90.82 396.90L84.62 396.90Z" fill="#ffc000"/><path d="M91.45 391.30L94.55 396.90L88.35 396.90Z" fill="#ffc000"/><path d="M95.19 391.30L98.29 396.90L92.09 396.90Z" fill="#ffc000"/><path d="M98.92 391.30L102.02 396.90L95.82 396.90Z" fill="#ffc000"/><path d="M102.66 391.30L105.76 396.90L99.56 396.90Z" fill="#ffc000"/><path d="M106.41 391.30L109.51 396.90L103.31 396.90Z" fill="#ffc000"/><path d="M110.16 391.30L113.26 396.90L107.06 396.90Z" fill="#ffc000"/><path d="M113.91 391.30L117.01 396.90L110.81 396.90Z" fill="#ffc000"/><path d="M117.67 391.30L120.77 396.90L114.57 396.90Z" fill="#ffc000"/><path d="M121.43 391.30L124.53 396.90L118.33 396.90Z" fill="#ffc000"/><path d="M125.19 391.30L128.29 396.90L122.09 396.90Z" fill="#ffc000"/><path d="M128.96 391.30L132.06 396.90L125.86 396.90Z" fill="#ffc000"/><path d="M132.73 391.30L135.83 396.90L129.63 396.90Z" fill="#ffc000"/><path d="M136.51 391.30L139.61 396.90L133.41 396.90Z" fill="#ffc000"/><path d="M140.29 391.30L143.39 396.90L137.19 396.90Z" fill="#ffc000"/><path d="M144.07 391.30L147.17 396.90L140.97 396.90Z" fill="#ffc000"/><path d="M147.86 391.30L150.96 396.90L144.76 396.90Z" fill="#ffc000"/><path d="M151.65 391.30L154.75 396.90L148.55 396.90Z" fill="#ffc000"/><path d="M155.45 391.30L158.55 396.90L152.35 396.90Z" fill="#ffc000"/><path d="M159.25 391.30L162.35 396.90L156.15 396.90Z" fill="#ffc000"/><path d="M163.05 391.30L166.15 396.90L159.95 396.90Z" fill="#ffc000"/><path d="M166.86 391.30L169.96 396.90L163.76 396.90Z" fill="#ffc000"/><path d="M170.67 391.30L173.77 396.90L167.57 396.90Z" fill="#ffc000"/><path d="M174.49 391.30L177.59 396.90L171.39 396.90Z" fill="#ffc000"/><path d="M178.31 391.30L181.41 396.90L175.21 396.90Z" fill="#ffc000"/><path d="M182.13 391.30L185.23 396.90L179.03 396.90Z" fill="#ffc000"/><path d="M185.96 391.30L189.06 396.90L182.86 396.90Z" fill="#ffc000"/><path d="M189.79 391.30L192.89 396.90L186.69 396.90Z" fill="#ffc000"/><path d="M193.62 391.30L196.72 396.90L190.52 396.90Z" fill="#ffc000"/><path d="M197.46 391.30L200.56 396.90L194.36 396.90Z" fill="#ffc000"/><path d="M201.31 391.30L204.41 396.90L198.21 396.90Z" fill="#ffc000"/><path d="M205.15 391.30L208.25 396.90L202.05 396.90Z" fill="#ffc000"/><path d="M209.00 391.30L212.10 396.90L205.90 396.90Z" fill="#ffc000"/><path d="M212.86 391.30L215.96 396.90L209.76 396.90Z" fill="#ffc000"/><path d="M216.72 391.30L219.82 396.90L213.62 396.90Z" fill="#ffc000"/><path d="M220.58 391.30L223.68 396.90L217.48 396.90Z" fill="#ffc000"/><path d="M224.45 391.30L227.55 396.90L221.35 396.90Z" fill="#ffc000"/><path d="M228.32 391.30L231.42 396.90L225.22 396.90Z" fill="#ffc000"/><path d="M232.19 391.30L235.29 396.90L229.09 396.90Z" fill="#ffc000"/><path d="M236.07 391.30L239.17 396.90L232.97 396.90Z" fill="#ffc000"/><path d="M239.95 391.30L243.05 396.90L236.85 396.90Z" fill="#ffc000"/><path d="M243.84 391.30L246.94 396.90L240.74 396.90Z" fill="#ffc000"/><path d="M247.73 391.30L250.83 396.90L244.63 396.90Z" fill="#ffc000"/><path d="M251.62 391.30L254.72 396.90L248.52 396.90Z" fill="#ffc000"/><path d="M255.52 391.30L258.62 396.90L252.42 396.90Z" fill="#ffc000"/><path d="M259.43 391.30L262.53 396.90L256.33 396.90Z" fill="#ffc000"/><path d="M263.33 391.30L266.43 396.90L260.23 396.90Z" fill="#ffc000"/><path d="M267.24 391.30L270.34 396.90L264.14 396.90Z" fill="#ffc000"/><path d="M271.16 391.30L274.26 396.90L268.06 396.90Z" fill="#ffc000"/><path d="M275.07 391.30L278.17 396.90L271.97 396.90Z" fill="#ffc000"/><path d="M279.00 391.30L282.10 396.90L275.90 396.90Z" fill="#ffc000"/><path d="M282.92 391.30L286.02 396.90L279.82 396.90Z" fill="#ffc000"/><path d="M286.85 391.30L289.95 396.90L283.75 396.90Z" fill="#ffc000"/><path d="M290.78 391.30L293.88 396.90L287.68 396.90Z" fill="#ffc000"/><path d="M294.72 391.30L297.82 396.90L291.62 396.90Z" fill="#ffc000"/><path d="M298.66 391.30L301.76 396.90L295.56 396.90Z" fill="#ffc000"/><path d="M302.61 391.30L305.71 396.90L299.51 396.90Z" fill="#ffc000"/><path d="M306.56 391.30L309.66 396.90L303.46 396.90Z" fill="#ffc000"/><path d="M310.51 391.30L313.61 396.90L307.41 396.90Z" fill="#ffc000"/><path d="M314.47 391.30L317.57 396.90L311.37 396.90Z" fill="#ffc000"/><path d="M318.43 391.30L321.53 396.90L315.33 396.90Z" fill="#ffc000"/><path d="M322.40 391.30L325.50 396.90L319.30 396.90Z" fill="#ffc000"/><path d="M326.37 391.30L329.47 396.90L323.27 396.90Z" fill="#ffc000"/><path d="M330.34 391.30L333.44 396.90L327.24 396.90Z" fill="#ffc000"/><path d="M334.32 391.30L337.42 396.90L331.22 396.90Z" fill="#ffc000"/><path d="M338.30 391.30L341.40 396.90L335.20 396.90Z" fill="#ffc000"/><path d="M342.28 391.30L345.38 396.90L339.18 396.90Z" fill="#ffc000"/><path d="M346.27 391.30L349.37 396.90L343.17 396.90Z" fill="#ffc000"/><path d="M350.26 391.30L353.36 396.90L347.16 396.90Z" fill="#ffc000"/><path d="M354.26 391.30L357.36 396.90L351.16 396.90Z" fill="#ffc000"/><path d="M358.26 391.30L361.36 396.90L355.16 396.90Z" fill="#ffc000"/><path d="M362.26 391.30L365.36 396.90L359.16 396.90Z" fill="#ffc000"/><path d="M366.27 391.30L369.37 396.90L363.17 396.90Z" fill="#ffc000"/><path d="M370.29 391.30L373.39 396.90L367.19 396.90Z" fill="#ffc000"/><path d="M374.30 391.30L377.40 396.90L371.20 396.90Z" fill="#ffc000"/><path d="M378.32 391.29L381.42 396.89L375.22 396.89Z" fill="#ffc000"/><path d="M382.35 391.29L385.45 396.89L379.25 396.89Z" fill="#ffc000"/><path d="M386.37 391.29L389.47 396.89L383.27 396.89Z" fill="#ffc000"/><path d="M390.41 391.28L393.51 396.88L387.31 396.88Z" fill="#ffc000"/><path d="M394.44 391.28L397.54 396.88L391.34 396.88Z" fill="#ffc000"/><path d="M398.48 391.27L401.58 396.87L395.38 396.87Z" fill="#ffc000"/><path d="M402.53 391.26L405.63 396.86L399.43 396.86Z" fill="#ffc000"/><path d="M406.57 391.24L409.67 396.84L403.47 396.84Z" fill="#ffc000"/><path d="M410.63 391.22L413.73 396.82L407.53 396.82Z" fill="#ffc000"/><path d="M414.68 391.19L417.78 396.79L411.58 396.79Z" fill="#ffc000"/><path d="M418.74 391.14L421.84 396.74L415.64 396.74Z" fill="#ffc000"/><path d="M422.81 391.08L425.91 396.68L419.71 396.68Z" fill="#ffc000"/><path d="M426.87 391.00L429.97 396.60L423.77 396.60Z" fill="#ffc000"/><path d="M430.95 390.88L434.05 396.48L427.85 396.48Z" fill="#ffc000"/><path d="M435.02 390.72L438.12 396.32L431.92 396.32Z" fill="#ffc000"/><path d="M439.10 390.50L442.20 396.10L436.00 396.10Z" fill="#ffc000"/><path d="M443.20 390.20L446.30 395.80L440.10 395.80Z" fill="#ffc000"/><path d="M447.30 389.80L450.40 395.40L444.20 395.40Z" fill="#ffc000"/><path d="M451.50 389.10L454.60 394.70L448.40 394.70Z" fill="#ffc000"/><path d="M455.60 388.40L458.70 394.00L452.50 394.00Z" fill="#ffc000"/><path d="M459.60 386.90L462.70 392.50L456.50 392.50Z" fill="#ffc000"/><path d="M464.40 384.40L467.50 390.00L461.30 390.00Z" fill="#ffc000"/><path d="M468.40 378.90L471.50 384.50L465.30 384.50Z" fill="#ffc000"/><path d="M470.20 372.00L473.30 377.60L467.10 377.60Z" fill="#ffc000"/><path d="M470.90 364.50L474.00 370.10L467.80 370.10Z" fill="#ffc000"/><path d="M471.70 354.00L474.80 359.60L468.60 359.60Z" fill="#ffc000"/><path d="M472.10 324.70L475.20 330.30L469.00 330.30Z" fill="#ffc000"/><path d="M472.20 296.20L475.30 301.80L469.10 301.80Z" fill="#ffc000"/><path d="M472.30 154.70L475.40 160.30L469.20 160.30Z" fill="#ffc000"/>
<path d="M86.40 395.10L90.13 395.10L93.87 395.10L97.62 395.10L101.38 395.10L105.15 395.10L108.92 395.10L112.70 395.10L116.49 395.10L120.29 395.10L124.09 395.10L127.91 395.10L131.73 395.10L135.56 395.10L139.39 395.10L143.24 395.10L147.09 395.10L150.95 395.10L154.82 395.10L158.70 395.10L162.59 395.10L166.48 395.10L170.38 395.10L174.29 395.10L178.21 395.10L182.13 395.10L186.06 395.10L190.00 395.10L193.95 395.10L197.91 395.10L201.87 395.10L205.85 395.10L209.83 395.10L213.82 395.10L217.81 395.10L221.82 395.10L225.83 395.10L229.85 395.10L233.88 395.10L237.92 395.10L241.96 395.10L246.01 395.10L250.07 395.10L254.14 395.10L258.22 395.10L262.30 395.10L266.40 395.10L270.50 395.10L274.61 395.10L278.72 395.10L282.85 395.10L286.98 395.10L291.12 395.10L295.27 395.10L299.42 395.10L303.59 395.10L307.76 395.10L311.94 395.10L316.13 395.10L320.32 395.10L324.53 395.10L328.74 395.10L332.96 395.10L337.19 395.10L341.43 395.10L345.67 395.10L349.92 395.10L354.18 395.10L358.45 395.10L362.73 395.10L367.01 395.10L371.30 395.10L375.60 395.10L379.91 395.10L384.22 395.10L388.55 395.10L392.88 395.10L397.22 395.10L401.57 395.10L405.92 395.10L410.29 395.10L414.66 395.10L419.04 395.09L423.43 395.09L427.82 395.09L432.23 395.08L436.64 395.07L441.06 395.06L445.48 395.04L449.92 395.02L454.36 394.98L458.81 394.93L463.27 394.86L467.74 394.76L472.22 394.61L476.70 394.40L481.20 393.90L485.90 393.20L490.70 392.30L495.40 391.20L500.00 389.60L503.50 387.60L505.50 384.30L506.70 379.90L507.70 373.80L508.40 365.10L508.40 339.60L508.40 313.40L508.40 180.00" fill="none" stroke="#52b2e8" stroke-width="1.2" stroke-linejoin="round"/>
<path d="M86.40 391.70L89.15 396.75L83.65 396.75Z" fill="#fff" stroke="#3aa5e4" stroke-width="0.8" stroke-linejoin="miter"/><path d="M90.13 391.70L92.88 396.75L87.38 396.75Z" fill="#fff" stroke="#3aa5e4" stroke-width="0.8" stroke-linejoin="miter"/><path d="M93.87 391.70L96.62 396.75L91.12 396.75Z" fill="#fff" stroke="#3aa5e4" stroke-width="0.8" stroke-linejoin="miter"/><path d="M97.62 391.70L100.37 396.75L94.87 396.75Z" fill="#fff" stroke="#3aa5e4" stroke-width="0.8" stroke-linejoin="miter"/><path d="M101.38 391.70L104.13 396.75L98.63 396.75Z" fill="#fff" stroke="#3aa5e4" stroke-width="0.8" stroke-linejoin="miter"/><path d="M105.15 391.70L107.90 396.75L102.40 396.75Z" fill="#fff" stroke="#3aa5e4" stroke-width="0.8" stroke-linejoin="miter"/><path d="M108.92 391.70L111.67 396.75L106.17 396.75Z" fill="#fff" stroke="#3aa5e4" stroke-width="0.8" stroke-linejoin="miter"/><path d="M112.70 391.70L115.45 396.75L109.95 396.75Z" fill="#fff" stroke="#3aa5e4" stroke-width="0.8" stroke-linejoin="miter"/><path d="M116.49 391.70L119.24 396.75L113.74 396.75Z" fill="#fff" stroke="#3aa5e4" stroke-width="0.8" stroke-linejoin="miter"/><path d="M120.29 391.70L123.04 396.75L117.54 396.75Z" fill="#fff" stroke="#3aa5e4" stroke-width="0.8" stroke-linejoin="miter"/><path d="M124.09 391.70L126.84 396.75L121.34 396.75Z" fill="#fff" stroke="#3aa5e4" stroke-width="0.8" stroke-linejoin="miter"/><path d="M127.91 391.70L130.66 396.75L125.16 396.75Z" fill="#fff" stroke="#3aa5e4" stroke-width="0.8" stroke-linejoin="miter"/><path d="M131.73 391.70L134.48 396.75L128.98 396.75Z" fill="#fff" stroke="#3aa5e4" stroke-width="0.8" stroke-linejoin="miter"/><path d="M135.56 391.70L138.31 396.75L132.81 396.75Z" fill="#fff" stroke="#3aa5e4" stroke-width="0.8" stroke-linejoin="miter"/><path d="M139.39 391.70L142.14 396.75L136.64 396.75Z" fill="#fff" stroke="#3aa5e4" stroke-width="0.8" stroke-linejoin="miter"/><path d="M143.24 391.70L145.99 396.75L140.49 396.75Z" fill="#fff" stroke="#3aa5e4" stroke-width="0.8" stroke-linejoin="miter"/><path d="M147.09 391.70L149.84 396.75L144.34 396.75Z" fill="#fff" stroke="#3aa5e4" stroke-width="0.8" stroke-linejoin="miter"/><path d="M150.95 391.70L153.70 396.75L148.20 396.75Z" fill="#fff" stroke="#3aa5e4" stroke-width="0.8" stroke-linejoin="miter"/><path d="M154.82 391.70L157.57 396.75L152.07 396.75Z" fill="#fff" stroke="#3aa5e4" stroke-width="0.8" stroke-linejoin="miter"/><path d="M158.70 391.70L161.45 396.75L155.95 396.75Z" fill="#fff" stroke="#3aa5e4" stroke-width="0.8" stroke-linejoin="miter"/><path d="M162.59 391.70L165.34 396.75L159.84 396.75Z" fill="#fff" stroke="#3aa5e4" stroke-width="0.8" stroke-linejoin="miter"/><path d="M166.48 391.70L169.23 396.75L163.73 396.75Z" fill="#fff" stroke="#3aa5e4" stroke-width="0.8" stroke-linejoin="miter"/><path d="M170.38 391.70L173.13 396.75L167.63 396.75Z" fill="#fff" stroke="#3aa5e4" stroke-width="0.8" stroke-linejoin="miter"/><path d="M174.29 391.70L177.04 396.75L171.54 396.75Z" fill="#fff" stroke="#3aa5e4" stroke-width="0.8" stroke-linejoin="miter"/><path d="M178.21 391.70L180.96 396.75L175.46 396.75Z" fill="#fff" stroke="#3aa5e4" stroke-width="0.8" stroke-linejoin="miter"/><path d="M182.13 391.70L184.88 396.75L179.38 396.75Z" fill="#fff" stroke="#3aa5e4" stroke-width="0.8" stroke-linejoin="miter"/><path d="M186.06 391.70L188.81 396.75L183.31 396.75Z" fill="#fff" stroke="#3aa5e4" stroke-width="0.8" stroke-linejoin="miter"/><path d="M190.00 391.70L192.75 396.75L187.25 396.75Z" fill="#fff" stroke="#3aa5e4" stroke-width="0.8" stroke-linejoin="miter"/><path d="M193.95 391.70L196.70 396.75L191.20 396.75Z" fill="#fff" stroke="#3aa5e4" stroke-width="0.8" stroke-linejoin="miter"/><path d="M197.91 391.70L200.66 396.75L195.16 396.75Z" fill="#fff" stroke="#3aa5e4" stroke-width="0.8" stroke-linejoin="miter"/><path d="M201.87 391.70L204.62 396.75L199.12 396.75Z" fill="#fff" stroke="#3aa5e4" stroke-width="0.8" stroke-linejoin="miter"/><path d="M205.85 391.70L208.60 396.75L203.10 396.75Z" fill="#fff" stroke="#3aa5e4" stroke-width="0.8" stroke-linejoin="miter"/><path d="M209.83 391.70L212.58 396.75L207.08 396.75Z" fill="#fff" stroke="#3aa5e4" stroke-width="0.8" stroke-linejoin="miter"/><path d="M213.82 391.70L216.57 396.75L211.07 396.75Z" fill="#fff" stroke="#3aa5e4" stroke-width="0.8" stroke-linejoin="miter"/><path d="M217.81 391.70L220.56 396.75L215.06 396.75Z" fill="#fff" stroke="#3aa5e4" stroke-width="0.8" stroke-linejoin="miter"/><path d="M221.82 391.70L224.57 396.75L219.07 396.75Z" fill="#fff" stroke="#3aa5e4" stroke-width="0.8" stroke-linejoin="miter"/><path d="M225.83 391.70L228.58 396.75L223.08 396.75Z" fill="#fff" stroke="#3aa5e4" stroke-width="0.8" stroke-linejoin="miter"/><path d="M229.85 391.70L232.60 396.75L227.10 396.75Z" fill="#fff" stroke="#3aa5e4" stroke-width="0.8" stroke-linejoin="miter"/><path d="M233.88 391.70L236.63 396.75L231.13 396.75Z" fill="#fff" stroke="#3aa5e4" stroke-width="0.8" stroke-linejoin="miter"/><path d="M237.92 391.70L240.67 396.75L235.17 396.75Z" fill="#fff" stroke="#3aa5e4" stroke-width="0.8" stroke-linejoin="miter"/><path d="M241.96 391.70L244.71 396.75L239.21 396.75Z" fill="#fff" stroke="#3aa5e4" stroke-width="0.8" stroke-linejoin="miter"/><path d="M246.01 391.70L248.76 396.75L243.26 396.75Z" fill="#fff" stroke="#3aa5e4" stroke-width="0.8" stroke-linejoin="miter"/><path d="M250.07 391.70L252.82 396.75L247.32 396.75Z" fill="#fff" stroke="#3aa5e4" stroke-width="0.8" stroke-linejoin="miter"/><path d="M254.14 391.70L256.89 396.75L251.39 396.75Z" fill="#fff" stroke="#3aa5e4" stroke-width="0.8" stroke-linejoin="miter"/><path d="M258.22 391.70L260.97 396.75L255.47 396.75Z" fill="#fff" stroke="#3aa5e4" stroke-width="0.8" stroke-linejoin="miter"/><path d="M262.30 391.70L265.05 396.75L259.55 396.75Z" fill="#fff" stroke="#3aa5e4" stroke-width="0.8" stroke-linejoin="miter"/><path d="M266.40 391.70L269.15 396.75L263.65 396.75Z" fill="#fff" stroke="#3aa5e4" stroke-width="0.8" stroke-linejoin="miter"/><path d="M270.50 391.70L273.25 396.75L267.75 396.75Z" fill="#fff" stroke="#3aa5e4" stroke-width="0.8" stroke-linejoin="miter"/><path d="M274.61 391.70L277.36 396.75L271.86 396.75Z" fill="#fff" stroke="#3aa5e4" stroke-width="0.8" stroke-linejoin="miter"/><path d="M278.72 391.70L281.47 396.75L275.97 396.75Z" fill="#fff" stroke="#3aa5e4" stroke-width="0.8" stroke-linejoin="miter"/><path d="M282.85 391.70L285.60 396.75L280.10 396.75Z" fill="#fff" stroke="#3aa5e4" stroke-width="0.8" stroke-linejoin="miter"/><path d="M286.98 391.70L289.73 396.75L284.23 396.75Z" fill="#fff" stroke="#3aa5e4" stroke-width="0.8" stroke-linejoin="miter"/><path d="M291.12 391.70L293.87 396.75L288.37 396.75Z" fill="#fff" stroke="#3aa5e4" stroke-width="0.8" stroke-linejoin="miter"/><path d="M295.27 391.70L298.02 396.75L292.52 396.75Z" fill="#fff" stroke="#3aa5e4" stroke-width="0.8" stroke-linejoin="miter"/><path d="M299.42 391.70L302.17 396.75L296.67 396.75Z" fill="#fff" stroke="#3aa5e4" stroke-width="0.8" stroke-linejoin="miter"/><path d="M303.59 391.70L306.34 396.75L300.84 396.75Z" fill="#fff" stroke="#3aa5e4" stroke-width="0.8" stroke-linejoin="miter"/><path d="M307.76 391.70L310.51 396.75L305.01 396.75Z" fill="#fff" stroke="#3aa5e4" stroke-width="0.8" stroke-linejoin="miter"/><path d="M311.94 391.70L314.69 396.75L309.19 396.75Z" fill="#fff" stroke="#3aa5e4" stroke-width="0.8" stroke-linejoin="miter"/><path d="M316.13 391.70L318.88 396.75L313.38 396.75Z" fill="#fff" stroke="#3aa5e4" stroke-width="0.8" stroke-linejoin="miter"/><path d="M320.32 391.70L323.07 396.75L317.57 396.75Z" fill="#fff" stroke="#3aa5e4" stroke-width="0.8" stroke-linejoin="miter"/><path d="M324.53 391.70L327.28 396.75L321.78 396.75Z" fill="#fff" stroke="#3aa5e4" stroke-width="0.8" stroke-linejoin="miter"/><path d="M328.74 391.70L331.49 396.75L325.99 396.75Z" fill="#fff" stroke="#3aa5e4" stroke-width="0.8" stroke-linejoin="miter"/><path d="M332.96 391.70L335.71 396.75L330.21 396.75Z" fill="#fff" stroke="#3aa5e4" stroke-width="0.8" stroke-linejoin="miter"/><path d="M337.19 391.70L339.94 396.75L334.44 396.75Z" fill="#fff" stroke="#3aa5e4" stroke-width="0.8" stroke-linejoin="miter"/><path d="M341.43 391.70L344.18 396.75L338.68 396.75Z" fill="#fff" stroke="#3aa5e4" stroke-width="0.8" stroke-linejoin="miter"/><path d="M345.67 391.70L348.42 396.75L342.92 396.75Z" fill="#fff" stroke="#3aa5e4" stroke-width="0.8" stroke-linejoin="miter"/><path d="M349.92 391.70L352.67 396.75L347.17 396.75Z" fill="#fff" stroke="#3aa5e4" stroke-width="0.8" stroke-linejoin="miter"/><path d="M354.18 391.70L356.93 396.75L351.43 396.75Z" fill="#fff" stroke="#3aa5e4" stroke-width="0.8" stroke-linejoin="miter"/><path d="M358.45 391.70L361.20 396.75L355.70 396.75Z" fill="#fff" stroke="#3aa5e4" stroke-width="0.8" stroke-linejoin="miter"/><path d="M362.73 391.70L365.48 396.75L359.98 396.75Z" fill="#fff" stroke="#3aa5e4" stroke-width="0.8" stroke-linejoin="miter"/><path d="M367.01 391.70L369.76 396.75L364.26 396.75Z" fill="#fff" stroke="#3aa5e4" stroke-width="0.8" stroke-linejoin="miter"/><path d="M371.30 391.70L374.05 396.75L368.55 396.75Z" fill="#fff" stroke="#3aa5e4" stroke-width="0.8" stroke-linejoin="miter"/><path d="M375.60 391.70L378.35 396.75L372.85 396.75Z" fill="#fff" stroke="#3aa5e4" stroke-width="0.8" stroke-linejoin="miter"/><path d="M379.91 391.70L382.66 396.75L377.16 396.75Z" fill="#fff" stroke="#3aa5e4" stroke-width="0.8" stroke-linejoin="miter"/><path d="M384.22 391.70L386.97 396.75L381.47 396.75Z" fill="#fff" stroke="#3aa5e4" stroke-width="0.8" stroke-linejoin="miter"/><path d="M388.55 391.70L391.30 396.75L385.80 396.75Z" fill="#fff" stroke="#3aa5e4" stroke-width="0.8" stroke-linejoin="miter"/><path d="M392.88 391.70L395.63 396.75L390.13 396.75Z" fill="#fff" stroke="#3aa5e4" stroke-width="0.8" stroke-linejoin="miter"/><path d="M397.22 391.70L399.97 396.75L394.47 396.75Z" fill="#fff" stroke="#3aa5e4" stroke-width="0.8" stroke-linejoin="miter"/><path d="M401.57 391.70L404.32 396.75L398.82 396.75Z" fill="#fff" stroke="#3aa5e4" stroke-width="0.8" stroke-linejoin="miter"/><path d="M405.92 391.70L408.67 396.75L403.17 396.75Z" fill="#fff" stroke="#3aa5e4" stroke-width="0.8" stroke-linejoin="miter"/><path d="M410.29 391.70L413.04 396.75L407.54 396.75Z" fill="#fff" stroke="#3aa5e4" stroke-width="0.8" stroke-linejoin="miter"/><path d="M414.66 391.70L417.41 396.75L411.91 396.75Z" fill="#fff" stroke="#3aa5e4" stroke-width="0.8" stroke-linejoin="miter"/><path d="M419.04 391.69L421.79 396.74L416.29 396.74Z" fill="#fff" stroke="#3aa5e4" stroke-width="0.8" stroke-linejoin="miter"/><path d="M423.43 391.69L426.18 396.74L420.68 396.74Z" fill="#fff" stroke="#3aa5e4" stroke-width="0.8" stroke-linejoin="miter"/><path d="M427.82 391.69L430.57 396.74L425.07 396.74Z" fill="#fff" stroke="#3aa5e4" stroke-width="0.8" stroke-linejoin="miter"/><path d="M432.23 391.68L434.98 396.73L429.48 396.73Z" fill="#fff" stroke="#3aa5e4" stroke-width="0.8" stroke-linejoin="miter"/><path d="M436.64 391.67L439.39 396.72L433.89 396.72Z" fill="#fff" stroke="#3aa5e4" stroke-width="0.8" stroke-linejoin="miter"/><path d="M441.06 391.66L443.81 396.71L438.31 396.71Z" fill="#fff" stroke="#3aa5e4" stroke-width="0.8" stroke-linejoin="miter"/><path d="M445.48 391.64L448.23 396.69L442.73 396.69Z" fill="#fff" stroke="#3aa5e4" stroke-width="0.8" stroke-linejoin="miter"/><path d="M449.92 391.62L452.67 396.67L447.17 396.67Z" fill="#fff" stroke="#3aa5e4" stroke-width="0.8" stroke-linejoin="miter"/><path d="M454.36 391.58L457.11 396.63L451.61 396.63Z" fill="#fff" stroke="#3aa5e4" stroke-width="0.8" stroke-linejoin="miter"/><path d="M458.81 391.53L461.56 396.58L456.06 396.58Z" fill="#fff" stroke="#3aa5e4" stroke-width="0.8" stroke-linejoin="miter"/><path d="M463.27 391.46L466.02 396.51L460.52 396.51Z" fill="#fff" stroke="#3aa5e4" stroke-width="0.8" stroke-linejoin="miter"/><path d="M467.74 391.36L470.49 396.41L464.99 396.41Z" fill="#fff" stroke="#3aa5e4" stroke-width="0.8" stroke-linejoin="miter"/><path d="M472.22 391.21L474.97 396.26L469.47 396.26Z" fill="#fff" stroke="#3aa5e4" stroke-width="0.8" stroke-linejoin="miter"/><path d="M476.70 391.00L479.45 396.05L473.95 396.05Z" fill="#fff" stroke="#3aa5e4" stroke-width="0.8" stroke-linejoin="miter"/><path d="M481.20 390.50L483.95 395.55L478.45 395.55Z" fill="#fff" stroke="#3aa5e4" stroke-width="0.8" stroke-linejoin="miter"/><path d="M485.90 389.80L488.65 394.85L483.15 394.85Z" fill="#fff" stroke="#3aa5e4" stroke-width="0.8" stroke-linejoin="miter"/><path d="M490.70 388.90L493.45 393.95L487.95 393.95Z" fill="#fff" stroke="#3aa5e4" stroke-width="0.8" stroke-linejoin="miter"/><path d="M495.40 387.80L498.15 392.85L492.65 392.85Z" fill="#fff" stroke="#3aa5e4" stroke-width="0.8" stroke-linejoin="miter"/><path d="M500.00 386.20L502.75 391.25L497.25 391.25Z" fill="#fff" stroke="#3aa5e4" stroke-width="0.8" stroke-linejoin="miter"/><path d="M503.50 384.20L506.25 389.25L500.75 389.25Z" fill="#fff" stroke="#3aa5e4" stroke-width="0.8" stroke-linejoin="miter"/><path d="M505.50 380.90L508.25 385.95L502.75 385.95Z" fill="#fff" stroke="#3aa5e4" stroke-width="0.8" stroke-linejoin="miter"/><path d="M506.70 376.50L509.45 381.55L503.95 381.55Z" fill="#fff" stroke="#3aa5e4" stroke-width="0.8" stroke-linejoin="miter"/><path d="M507.70 370.40L510.45 375.45L504.95 375.45Z" fill="#fff" stroke="#3aa5e4" stroke-width="0.8" stroke-linejoin="miter"/><path d="M508.40 361.70L511.15 366.75L505.65 366.75Z" fill="#fff" stroke="#3aa5e4" stroke-width="0.8" stroke-linejoin="miter"/><path d="M508.40 336.20L511.15 341.25L505.65 341.25Z" fill="#fff" stroke="#3aa5e4" stroke-width="0.8" stroke-linejoin="miter"/><path d="M508.40 310.00L511.15 315.05L505.65 315.05Z" fill="#fff" stroke="#3aa5e4" stroke-width="0.8" stroke-linejoin="miter"/><path d="M508.40 176.60L511.15 181.65L505.65 181.65Z" fill="#fff" stroke="#3aa5e4" stroke-width="0.8" stroke-linejoin="miter"/>
<path d="M139.50 394.50L143.40 394.50L147.30 394.50L151.20 394.50L155.10 394.50L159.01 394.50L162.91 394.50L166.82 394.50L170.72 394.50L174.63 394.50L178.54 394.50L182.45 394.50L186.37 394.50L190.28 394.50L194.20 394.50L198.11 394.50L202.03 394.50L205.95 394.50L209.87 394.50L213.79 394.50L217.71 394.50L221.63 394.50L225.56 394.50L229.48 394.50L233.41 394.50L237.34 394.50L241.27 394.50L245.20 394.50L249.13 394.50L253.07 394.50L257.00 394.50L260.94 394.50L264.87 394.50L268.81 394.50L272.75 394.50L276.69 394.50L280.63 394.50L284.58 394.50L288.52 394.50L292.47 394.50L296.41 394.50L300.36 394.50L304.31 394.50L308.26 394.50L312.21 394.50L316.17 394.50L320.12 394.50L324.08 394.50L328.03 394.50L331.99 394.50L335.95 394.50L339.91 394.50L343.87 394.50L347.84 394.50L351.80 394.50L355.77 394.50L359.73 394.50L363.70 394.50L367.67 394.50L371.64 394.50L375.61 394.50L379.58 394.50L383.56 394.50L387.53 394.50L391.51 394.49L395.49 394.49L399.47 394.49L403.45 394.49L407.43 394.48L411.41 394.47L415.40 394.46L419.38 394.45L423.37 394.43L427.35 394.40L431.34 394.36L435.33 394.31L439.32 394.24L443.32 394.14L447.31 394.00L451.31 393.81L455.30 393.56L459.30 393.20L463.30 392.40L467.30 391.20L471.10 389.60L474.10 387.50L476.30 384.80L477.80 381.20L479.00 376.00L479.70 369.20L480.00 348.60L480.10 328.00L480.10 226.80" fill="none" stroke="#a3d69d" stroke-width="1.5" stroke-linejoin="round"/>
<path d="M139.50 391.30L140.50 393.42L142.83 393.72L141.12 395.33L141.56 397.63L139.50 396.50L137.44 397.63L137.88 395.33L136.17 393.72L138.50 393.42Z" fill="#34a63a"/><path d="M143.40 391.30L144.40 393.42L146.73 393.72L145.02 395.33L145.46 397.63L143.40 396.50L141.34 397.63L141.78 395.33L140.07 393.72L142.40 393.42Z" fill="#34a63a"/><path d="M147.30 391.30L148.30 393.42L150.63 393.72L148.92 395.33L149.36 397.63L147.30 396.50L145.24 397.63L145.68 395.33L143.97 393.72L146.30 393.42Z" fill="#34a63a"/><path d="M151.20 391.30L152.20 393.42L154.53 393.72L152.82 395.33L153.26 397.63L151.20 396.50L149.14 397.63L149.58 395.33L147.87 393.72L150.20 393.42Z" fill="#34a63a"/><path d="M155.10 391.30L156.10 393.42L158.43 393.72L156.72 395.33L157.16 397.63L155.10 396.50L153.05 397.63L153.49 395.33L151.77 393.72L154.10 393.42Z" fill="#34a63a"/><path d="M159.01 391.30L160.01 393.42L162.33 393.72L160.62 395.33L161.06 397.63L159.01 396.50L156.95 397.63L157.39 395.33L155.68 393.72L158.01 393.42Z" fill="#34a63a"/><path d="M162.91 391.30L163.91 393.42L166.24 393.72L164.53 395.33L164.97 397.63L162.91 396.50L160.85 397.63L161.29 395.33L159.58 393.72L161.91 393.42Z" fill="#34a63a"/><path d="M166.82 391.30L167.82 393.42L170.15 393.72L168.43 395.33L168.87 397.63L166.82 396.50L164.76 397.63L165.20 395.33L163.49 393.72L165.82 393.42Z" fill="#34a63a"/><path d="M170.72 391.30L171.72 393.42L174.05 393.72L172.34 395.33L172.78 397.63L170.72 396.50L168.67 397.63L169.11 395.33L167.40 393.72L169.73 393.42Z" fill="#34a63a"/><path d="M174.63 391.30L175.63 393.42L177.96 393.72L176.25 395.33L176.69 397.63L174.63 396.50L172.58 397.63L173.02 395.33L171.30 393.72L173.63 393.42Z" fill="#34a63a"/><path d="M178.54 391.30L179.54 393.42L181.87 393.72L180.16 395.33L180.60 397.63L178.54 396.50L176.49 397.63L176.93 395.33L175.21 393.72L177.54 393.42Z" fill="#34a63a"/><path d="M182.45 391.30L183.45 393.42L185.78 393.72L184.07 395.33L184.51 397.63L182.45 396.50L180.40 397.63L180.84 395.33L179.13 393.72L181.46 393.42Z" fill="#34a63a"/><path d="M186.37 391.30L187.37 393.42L189.70 393.72L187.98 395.33L188.42 397.63L186.37 396.50L184.31 397.63L184.75 395.33L183.04 393.72L185.37 393.42Z" fill="#34a63a"/><path d="M190.28 391.30L191.28 393.42L193.61 393.72L191.90 395.33L192.34 397.63L190.28 396.50L188.22 397.63L188.66 395.33L186.95 393.72L189.28 393.42Z" fill="#34a63a"/><path d="M194.20 391.30L195.19 393.42L197.52 393.72L195.81 395.33L196.25 397.63L194.20 396.50L192.14 397.63L192.58 395.33L190.87 393.72L193.20 393.42Z" fill="#34a63a"/><path d="M198.11 391.30L199.11 393.42L201.44 393.72L199.73 395.33L200.17 397.63L198.11 396.50L196.05 397.63L196.49 395.33L194.78 393.72L197.11 393.42Z" fill="#34a63a"/><path d="M202.03 391.30L203.03 393.42L205.36 393.72L203.65 395.33L204.09 397.63L202.03 396.50L199.97 397.63L200.41 395.33L198.70 393.72L201.03 393.42Z" fill="#34a63a"/><path d="M205.95 391.30L206.95 393.42L209.28 393.72L207.56 395.33L208.00 397.63L205.95 396.50L203.89 397.63L204.33 395.33L202.62 393.72L204.95 393.42Z" fill="#34a63a"/><path d="M209.87 391.30L210.87 393.42L213.20 393.72L211.48 395.33L211.92 397.63L209.87 396.50L207.81 397.63L208.25 395.33L206.54 393.72L208.87 393.42Z" fill="#34a63a"/><path d="M213.79 391.30L214.79 393.42L217.12 393.72L215.40 395.33L215.85 397.63L213.79 396.50L211.73 397.63L212.17 395.33L210.46 393.72L212.79 393.42Z" fill="#34a63a"/><path d="M217.71 391.30L218.71 393.42L221.04 393.72L219.33 395.33L219.77 397.63L217.71 396.50L215.65 397.63L216.09 395.33L214.38 393.72L216.71 393.42Z" fill="#34a63a"/><path d="M221.63 391.30L222.63 393.42L224.96 393.72L223.25 395.33L223.69 397.63L221.63 396.50L219.58 397.63L220.02 395.33L218.31 393.72L220.63 393.42Z" fill="#34a63a"/><path d="M225.56 391.30L226.56 393.42L228.89 393.72L227.18 395.33L227.62 397.63L225.56 396.50L223.50 397.63L223.94 395.33L222.23 393.72L224.56 393.42Z" fill="#34a63a"/><path d="M229.48 391.30L230.48 393.42L232.81 393.72L231.10 395.33L231.54 397.63L229.48 396.50L227.43 397.63L227.87 395.33L226.16 393.72L228.49 393.42Z" fill="#34a63a"/><path d="M233.41 391.30L234.41 393.42L236.74 393.72L235.03 395.33L235.47 397.63L233.41 396.50L231.35 397.63L231.79 395.33L230.08 393.72L232.41 393.42Z" fill="#34a63a"/><path d="M237.34 391.30L238.34 393.42L240.67 393.72L238.96 395.33L239.40 397.63L237.34 396.50L235.28 397.63L235.72 395.33L234.01 393.72L236.34 393.42Z" fill="#34a63a"/><path d="M241.27 391.30L242.27 393.42L244.60 393.72L242.89 395.33L243.33 397.63L241.27 396.50L239.21 397.63L239.65 395.33L237.94 393.72L240.27 393.42Z" fill="#34a63a"/><path d="M245.20 391.30L246.20 393.42L248.53 393.72L246.82 395.33L247.26 397.63L245.20 396.50L243.14 397.63L243.58 395.33L241.87 393.72L244.20 393.42Z" fill="#34a63a"/><path d="M249.13 391.30L250.13 393.42L252.46 393.72L250.75 395.33L251.19 397.63L249.13 396.50L247.08 397.63L247.52 395.33L245.80 393.72L248.13 393.42Z" fill="#34a63a"/><path d="M253.07 391.30L254.07 393.42L256.39 393.72L254.68 395.33L255.12 397.63L253.07 396.50L251.01 397.63L251.45 395.33L249.74 393.72L252.07 393.42Z" fill="#34a63a"/><path d="M257.00 391.30L258.00 393.42L260.33 393.72L258.62 395.33L259.06 397.63L257.00 396.50L254.94 397.63L255.38 395.33L253.67 393.72L256.00 393.42Z" fill="#34a63a"/><path d="M260.94 391.30L261.94 393.42L264.26 393.72L262.55 395.33L262.99 397.63L260.94 396.50L258.88 397.63L259.32 395.33L257.61 393.72L259.94 393.42Z" fill="#34a63a"/><path d="M264.87 391.30L265.87 393.42L268.20 393.72L266.49 395.33L266.93 397.63L264.87 396.50L262.82 397.63L263.26 395.33L261.54 393.72L263.87 393.42Z" fill="#34a63a"/><path d="M268.81 391.30L269.81 393.42L272.14 393.72L270.43 395.33L270.87 397.63L268.81 396.50L266.75 397.63L267.19 395.33L265.48 393.72L267.81 393.42Z" fill="#34a63a"/><path d="M272.75 391.30L273.75 393.42L276.08 393.72L274.37 395.33L274.81 397.63L272.75 396.50L270.69 397.63L271.13 395.33L269.42 393.72L271.75 393.42Z" fill="#34a63a"/><path d="M276.69 391.30L277.69 393.42L280.02 393.72L278.31 395.33L278.75 397.63L276.69 396.50L274.63 397.63L275.08 395.33L273.36 393.72L275.69 393.42Z" fill="#34a63a"/><path d="M280.63 391.30L281.63 393.42L283.96 393.72L282.25 395.33L282.69 397.63L280.63 396.50L278.58 397.63L279.02 395.33L277.31 393.72L279.63 393.42Z" fill="#34a63a"/><path d="M284.58 391.30L285.58 393.42L287.91 393.72L286.19 395.33L286.63 397.63L284.58 396.50L282.52 397.63L282.96 395.33L281.25 393.72L283.58 393.42Z" fill="#34a63a"/><path d="M288.52 391.30L289.52 393.42L291.85 393.72L290.14 395.33L290.58 397.63L288.52 396.50L286.46 397.63L286.90 395.33L285.19 393.72L287.52 393.42Z" fill="#34a63a"/><path d="M292.47 391.30L293.47 393.42L295.80 393.72L294.08 395.33L294.52 397.63L292.47 396.50L290.41 397.63L290.85 395.33L289.14 393.72L291.47 393.42Z" fill="#34a63a"/><path d="M296.41 391.30L297.41 393.42L299.74 393.72L298.03 395.33L298.47 397.63L296.41 396.50L294.36 397.63L294.80 395.33L293.09 393.72L295.41 393.42Z" fill="#34a63a"/><path d="M300.36 391.30L301.36 393.42L303.69 393.72L301.98 395.33L302.42 397.63L300.36 396.50L298.30 397.63L298.75 395.33L297.03 393.72L299.36 393.42Z" fill="#34a63a"/><path d="M304.31 391.30L305.31 393.42L307.64 393.72L305.93 395.33L306.37 397.63L304.31 396.50L302.25 397.63L302.69 395.33L300.98 393.72L303.31 393.42Z" fill="#34a63a"/><path d="M308.26 391.30L309.26 393.42L311.59 393.72L309.88 395.33L310.32 397.63L308.26 396.50L306.20 397.63L306.65 395.33L304.93 393.72L307.26 393.42Z" fill="#34a63a"/><path d="M312.21 391.30L313.21 393.42L315.54 393.72L313.83 395.33L314.27 397.63L312.21 396.50L310.16 397.63L310.60 395.33L308.89 393.72L311.21 393.42Z" fill="#34a63a"/><path d="M316.17 391.30L317.17 393.42L319.50 393.72L317.78 395.33L318.22 397.63L316.17 396.50L314.11 397.63L314.55 395.33L312.84 393.72L315.17 393.42Z" fill="#34a63a"/><path d="M320.12 391.30L321.12 393.42L323.45 393.72L321.74 395.33L322.18 397.63L320.12 396.50L318.06 397.63L318.50 395.33L316.79 393.72L319.12 393.42Z" fill="#34a63a"/><path d="M324.08 391.30L325.08 393.42L327.41 393.72L325.69 395.33L326.13 397.63L324.08 396.50L322.02 397.63L322.46 395.33L320.75 393.72L323.08 393.42Z" fill="#34a63a"/><path d="M328.03 391.30L329.03 393.42L331.36 393.72L329.65 395.33L330.09 397.63L328.03 396.50L325.98 397.63L326.42 395.33L324.71 393.72L327.03 393.42Z" fill="#34a63a"/><path d="M331.99 391.30L332.99 393.42L335.32 393.72L333.61 395.33L334.05 397.63L331.99 396.50L329.93 397.63L330.38 395.33L328.66 393.72L330.99 393.42Z" fill="#34a63a"/><path d="M335.95 391.30L336.95 393.42L339.28 393.72L337.57 395.33L338.01 397.63L335.95 396.50L333.89 397.63L334.33 395.33L332.62 393.72L334.95 393.42Z" fill="#34a63a"/><path d="M339.91 391.30L340.91 393.42L343.24 393.72L341.53 395.33L341.97 397.63L339.91 396.50L337.85 397.63L338.29 395.33L336.58 393.72L338.91 393.42Z" fill="#34a63a"/><path d="M343.87 391.30L344.87 393.42L347.20 393.72L345.49 395.33L345.93 397.63L343.87 396.50L341.82 397.63L342.26 395.33L340.54 393.72L342.87 393.42Z" fill="#34a63a"/><path d="M347.84 391.30L348.84 393.42L351.16 393.72L349.45 395.33L349.89 397.63L347.84 396.50L345.78 397.63L346.22 395.33L344.51 393.72L346.84 393.42Z" fill="#34a63a"/><path d="M351.80 391.30L352.80 393.42L355.13 393.72L353.42 395.33L353.86 397.63L351.80 396.50L349.74 397.63L350.18 395.33L348.47 393.72L350.80 393.42Z" fill="#34a63a"/><path d="M355.77 391.30L356.77 393.42L359.09 393.72L357.38 395.33L357.82 397.63L355.77 396.50L353.71 397.63L354.15 395.33L352.44 393.72L354.77 393.42Z" fill="#34a63a"/><path d="M359.73 391.30L360.73 393.42L363.06 393.72L361.35 395.32L361.79 397.63L359.73 396.50L357.68 397.63L358.12 395.32L356.40 393.72L358.73 393.42Z" fill="#34a63a"/><path d="M363.70 391.30L364.70 393.42L367.03 393.72L365.32 395.32L365.76 397.63L363.70 396.50L361.64 397.63L362.08 395.32L360.37 393.72L362.70 393.42Z" fill="#34a63a"/><path d="M367.67 391.30L368.67 393.42L371.00 393.72L369.29 395.32L369.73 397.63L367.67 396.50L365.61 397.63L366.05 395.32L364.34 393.72L366.67 393.42Z" fill="#34a63a"/><path d="M371.64 391.30L372.64 393.42L374.97 393.72L373.26 395.32L373.70 397.63L371.64 396.50L369.58 397.63L370.02 395.32L368.31 393.72L370.64 393.42Z" fill="#34a63a"/><path d="M375.61 391.30L376.61 393.42L378.94 393.72L377.23 395.32L377.67 397.63L375.61 396.50L373.55 397.63L373.99 395.32L372.28 393.72L374.61 393.42Z" fill="#34a63a"/><path d="M379.58 391.30L380.58 393.42L382.91 393.72L381.20 395.32L381.64 397.63L379.58 396.50L377.53 397.63L377.97 395.32L376.26 393.72L378.59 393.42Z" fill="#34a63a"/><path d="M383.56 391.30L384.56 393.42L386.89 393.72L385.18 395.32L385.62 397.63L383.56 396.50L381.50 397.63L381.94 395.32L380.23 393.72L382.56 393.42Z" fill="#34a63a"/><path d="M387.53 391.30L388.53 393.42L390.86 393.71L389.15 395.32L389.59 397.63L387.53 396.50L385.48 397.63L385.92 395.32L384.20 393.71L386.53 393.42Z" fill="#34a63a"/><path d="M391.51 391.29L392.51 393.42L394.84 393.71L393.13 395.32L393.57 397.63L391.51 396.49L389.45 397.63L389.89 395.32L388.18 393.71L390.51 393.42Z" fill="#34a63a"/><path d="M395.49 391.29L396.49 393.42L398.82 393.71L397.10 395.32L397.55 397.62L395.49 396.49L393.43 397.62L393.87 395.32L392.16 393.71L394.49 393.42Z" fill="#34a63a"/><path d="M399.47 391.29L400.47 393.41L402.80 393.71L401.08 395.31L401.52 397.62L399.47 396.49L397.41 397.62L397.85 395.31L396.14 393.71L398.47 393.41Z" fill="#34a63a"/><path d="M403.45 391.29L404.45 393.41L406.78 393.70L405.06 395.31L405.50 397.62L403.45 396.49L401.39 397.62L401.83 395.31L400.12 393.70L402.45 393.41Z" fill="#34a63a"/><path d="M407.43 391.28L408.43 393.40L410.76 393.70L409.05 395.30L409.49 397.61L407.43 396.48L405.37 397.61L405.81 395.30L404.10 393.70L406.43 393.40Z" fill="#34a63a"/><path d="M411.41 391.27L412.41 393.40L414.74 393.69L413.03 395.30L413.47 397.60L411.41 396.47L409.35 397.60L409.79 395.30L408.08 393.69L410.41 393.40Z" fill="#34a63a"/><path d="M415.40 391.26L416.39 393.39L418.72 393.68L417.01 395.29L417.45 397.59L415.40 396.46L413.34 397.59L413.78 395.29L412.07 393.68L414.40 393.39Z" fill="#34a63a"/><path d="M419.38 391.25L420.38 393.37L422.71 393.67L421.00 395.27L421.44 397.58L419.38 396.45L417.32 397.58L417.76 395.27L416.05 393.67L418.38 393.37Z" fill="#34a63a"/><path d="M423.37 391.23L424.37 393.35L426.70 393.65L424.98 395.25L425.42 397.56L423.37 396.43L421.31 397.56L421.75 395.25L420.04 393.65L422.37 393.35Z" fill="#34a63a"/><path d="M427.35 391.20L428.35 393.32L430.68 393.62L428.97 395.22L429.41 397.53L427.35 396.40L425.30 397.53L425.74 395.22L424.03 393.62L426.36 393.32Z" fill="#34a63a"/><path d="M431.34 391.16L432.34 393.29L434.67 393.58L432.96 395.19L433.40 397.49L431.34 396.36L429.29 397.49L429.73 395.19L428.01 393.58L430.34 393.29Z" fill="#34a63a"/><path d="M435.33 391.11L436.33 393.23L438.66 393.53L436.95 395.13L437.39 397.44L435.33 396.31L433.28 397.44L433.72 395.13L432.00 393.53L434.33 393.23Z" fill="#34a63a"/><path d="M439.32 391.04L440.32 393.16L442.65 393.46L440.94 395.06L441.38 397.37L439.32 396.24L437.27 397.37L437.71 395.06L436.00 393.46L438.33 393.16Z" fill="#34a63a"/><path d="M443.32 390.94L444.32 393.06L446.65 393.36L444.93 394.96L445.37 397.27L443.32 396.14L441.26 397.27L441.70 394.96L439.99 393.36L442.32 393.06Z" fill="#34a63a"/><path d="M447.31 390.80L448.31 392.93L450.64 393.22L448.93 394.83L449.37 397.13L447.31 396.00L445.25 397.13L445.69 394.83L443.98 393.22L446.31 392.93Z" fill="#34a63a"/><path d="M451.31 390.61L452.31 392.74L454.63 393.03L452.92 394.64L453.36 396.95L451.31 395.81L449.25 396.95L449.69 394.64L447.98 393.03L450.31 392.74Z" fill="#34a63a"/><path d="M455.30 390.36L456.30 392.48L458.63 392.77L456.92 394.38L457.36 396.69L455.30 395.56L453.25 396.69L453.69 394.38L451.97 392.77L454.30 392.48Z" fill="#34a63a"/><path d="M459.30 390.00L460.30 392.12L462.63 392.42L460.92 394.03L461.36 396.33L459.30 395.20L457.24 396.33L457.68 394.03L455.97 392.42L458.30 392.12Z" fill="#34a63a"/><path d="M463.30 389.20L464.30 391.32L466.63 391.62L464.92 393.23L465.36 395.53L463.30 394.40L461.24 395.53L461.68 393.23L459.97 391.62L462.30 391.32Z" fill="#34a63a"/><path d="M467.30 388.00L468.30 390.12L470.63 390.42L468.92 392.03L469.36 394.33L467.30 393.20L465.24 394.33L465.68 392.03L463.97 390.42L466.30 390.12Z" fill="#34a63a"/><path d="M471.10 386.40L472.10 388.52L474.43 388.82L472.72 390.43L473.16 392.73L471.10 391.60L469.04 392.73L469.48 390.43L467.77 388.82L470.10 388.52Z" fill="#34a63a"/><path d="M474.10 384.30L475.10 386.42L477.43 386.72L475.72 388.33L476.16 390.63L474.10 389.50L472.04 390.63L472.48 388.33L470.77 386.72L473.10 386.42Z" fill="#34a63a"/><path d="M476.30 381.60L477.30 383.72L479.63 384.02L477.92 385.63L478.36 387.93L476.30 386.80L474.24 387.93L474.68 385.63L472.97 384.02L475.30 383.72Z" fill="#34a63a"/><path d="M477.80 378.00L478.80 380.12L481.13 380.42L479.42 382.03L479.86 384.33L477.80 383.20L475.74 384.33L476.18 382.03L474.47 380.42L476.80 380.12Z" fill="#34a63a"/><path d="M479.00 372.80L480.00 374.92L482.33 375.22L480.62 376.83L481.06 379.13L479.00 378.00L476.94 379.13L477.38 376.83L475.67 375.22L478.00 374.92Z" fill="#34a63a"/><path d="M479.70 366.00L480.70 368.12L483.03 368.42L481.32 370.03L481.76 372.33L479.70 371.20L477.64 372.33L478.08 370.03L476.37 368.42L478.70 368.12Z" fill="#34a63a"/><path d="M480.00 345.40L481.00 347.52L483.33 347.82L481.62 349.43L482.06 351.73L480.00 350.60L477.94 351.73L478.38 349.43L476.67 347.82L479.00 347.52Z" fill="#34a63a"/><path d="M480.10 324.80L481.10 326.92L483.43 327.22L481.72 328.83L482.16 331.13L480.10 330.00L478.04 331.13L478.48 328.83L476.77 327.22L479.10 326.92Z" fill="#34a63a"/><path d="M480.10 223.60L481.10 225.72L483.43 226.02L481.72 227.63L482.16 229.93L480.10 228.80L478.04 229.93L478.48 227.63L476.77 226.02L479.10 225.72Z" fill="#34a63a"/>
</g>
<g font-size="17.4px">
<text transform="translate(59.7 399.80) scale(0.925 1)" text-anchor="end">0</text>
<text transform="translate(59.7 323.27) scale(0.925 1)" text-anchor="end">0.01</text>
<text transform="translate(59.7 246.74) scale(0.925 1)" text-anchor="end">0.02</text>
<text transform="translate(59.7 170.21) scale(0.925 1)" text-anchor="end">0.03</text>
<text transform="translate(59.7 93.68) scale(0.925 1)" text-anchor="end">0.04</text>
<text transform="translate(59.7 17.15) scale(0.925 1)" text-anchor="end">0.05</text>
<text transform="translate(68.30 415.4) scale(0.925 1)" text-anchor="middle">0</text>
<text transform="translate(154.40 415.4) scale(0.925 1)" text-anchor="middle">0.1</text>
<text transform="translate(240.50 415.4) scale(0.925 1)" text-anchor="middle">0.2</text>
<text transform="translate(326.60 415.4) scale(0.925 1)" text-anchor="middle">0.3</text>
<text transform="translate(412.70 415.4) scale(0.925 1)" text-anchor="middle">0.4</text>
<text transform="translate(498.80 415.4) scale(0.925 1)" text-anchor="middle">0.5</text>
</g>
<text x="305.3" y="435.6" font-size="17.9px" text-anchor="middle">Soil volumetric water content (cm<tspan font-size="13px" dy="-6.5">3</tspan><tspan dy="6.5"> cm</tspan><tspan font-size="13px" dy="-6.5">−3</tspan><tspan dy="6.5">)</tspan></text>
<text x="305.2" y="457.7" font-size="18px" text-anchor="middle">(a)</text>
<text transform="translate(21.8 389.6) rotate(-90)" font-size="18px">Unsaturated<tspan dx="-1.65"> hydraulic</tspan><tspan dx="-0.95"> conductivity</tspan><tspan dx="0.9"> (cm min</tspan><tspan font-size="12.5px" dy="-8" dx="0.4">−1</tspan><tspan dy="8" dx="0.1">)</tspan></text>
<g id="legend" font-size="18.6px">
<line x1="103.2" y1="33.80" x2="143.9" y2="33.80" stroke="#74ade6" stroke-width="1.15"/>
<path d="M120.80 31.00L126.40 36.60M120.80 36.60L126.40 31.00" stroke="#3674cc" stroke-width="0.95" fill="none"/>
<text transform="translate(148.5 39.70) scale(0.955 1)">CK</text>
<line x1="103.2" y1="55.80" x2="143.9" y2="55.80" stroke="#f7ae84" stroke-width="1.15"/>
<circle cx="123.60" cy="55.80" r="2.85" fill="#f47a20"/>
<text transform="translate(148.5 61.70) scale(0.955 1)">S1</text>
<line x1="103.2" y1="78.00" x2="143.9" y2="78.00" stroke="#cdcdcd" stroke-width="1.15"/>
<circle cx="123.60" cy="78.00" r="2.45" fill="#fff" stroke="#c6c6c6" stroke-width="0.8"/>
<text transform="translate(148.5 83.90) scale(0.955 1)">S2</text>
<line x1="103.2" y1="100.40" x2="143.9" y2="100.40" stroke="#ffd35a" stroke-width="1.15"/>
<path d="M123.60 96.60L126.70 102.20L120.50 102.20Z" fill="#ffc000"/>
<text transform="translate(148.5 106.30) scale(0.955 1)">S3</text>
<line x1="103.2" y1="122.50" x2="143.9" y2="122.50" stroke="#58b4e8" stroke-width="1.15"/>
<path d="M123.60 119.10L126.35 124.15L120.85 124.15Z" fill="#fff" stroke="#3aa5e4" stroke-width="0.8" stroke-linejoin="miter"/>
<text transform="translate(148.5 128.40) scale(0.955 1)">S5</text>
<line x1="103.2" y1="144.60" x2="143.9" y2="144.60" stroke="#4fb94b" stroke-width="1.15"/>
<path d="M123.60 141.40L124.60 143.52L126.93 143.82L125.22 145.43L125.66 147.73L123.60 146.60L121.54 147.73L121.98 145.43L120.27 143.82L122.60 143.52Z" fill="#34a63a"/>
<text transform="translate(148.5 150.50) scale(0.955 1)">S10</text>
</g>
<g id="inset">
<rect x="148.2" y="207.05" width="217.90" height="149.95" fill="#fff" stroke="none"/>
<path d="M151.60 356.70L154.90 356.70L158.20 356.70L161.50 356.70L164.80 356.70L168.10 356.70L171.40 356.70L174.70 356.70L178.00 356.70L181.30 356.70L184.60 356.70L187.90 356.70L191.20 356.70L194.50 356.70L197.80 356.70L201.10 356.70L204.40 356.70L207.70 356.70L211.00 356.70L214.30 356.70L217.60 356.70L220.90 356.70L224.20 356.70L227.50 356.70L230.80 356.70L234.10 356.70L237.40 356.70L240.70 356.70L244.00 356.70L247.30 356.70L250.60 356.70L253.90 356.70L257.20 356.70L260.50 356.70L263.80 356.70L267.10 356.70L270.40 356.70L273.70 356.70L277.00 356.70L280.30 356.70L283.60 356.70L286.90 356.70L290.20 356.70L293.50 356.70L296.80 356.70L300.10 356.70L303.40 356.70L306.70 356.70L310.00 356.70L313.30 356.70L316.60 356.70L319.90 356.69L323.20 356.69L326.50 356.68L329.80 356.66L333.10 356.63L336.40 356.59L339.70 356.51L343.00 356.37L346.30 356.14L349.60 355.76L352.90 355.10L356.20 353.99L359.50 352.11L362.80 348.91L366.10 343.50" fill="none" stroke="#5b9bd5" stroke-width="0.9"/>
<path d="M151.60 356.70L154.90 356.70L158.20 356.70L161.50 356.70L164.80 356.70L168.10 356.70L171.40 356.70L174.70 356.70L178.00 356.70L181.30 356.70L184.60 356.70L187.90 356.70L191.20 356.70L194.50 356.70L197.80 356.70L201.10 356.70L204.40 356.70L207.70 356.70L211.00 356.70L214.30 356.70L217.60 356.70L220.90 356.70L224.20 356.70L227.50 356.70L230.80 356.70L234.10 356.70L237.40 356.70L240.70 356.70L244.00 356.70L247.30 356.70L250.60 356.70L253.90 356.70L257.20 356.70L260.50 356.70L263.80 356.70L267.10 356.70L270.40 356.70L273.70 356.70L277.00 356.70L280.30 356.70L283.60 356.70L286.90 356.70L290.20 356.70L293.50 356.70L296.80 356.70L300.10 356.70L303.40 356.70L306.70 356.70L310.00 356.70L313.30 356.69L316.60 356.69L319.90 356.69L323.20 356.68L326.50 356.66L329.80 356.64L333.10 356.60L336.40 356.53L339.70 356.43L343.00 356.25L346.30 355.96L349.60 355.49L352.90 354.71L356.20 353.44L359.50 351.35L362.80 347.92L366.10 342.30" fill="none" stroke="#3aa5e4" stroke-width="0.9"/><path d="M346.30 353.66L348.40 357.26L344.20 357.26Z" fill="#fff" stroke="#3aa5e4" stroke-width="0.7"/><path d="M349.60 353.19L351.70 356.79L347.50 356.79Z" fill="#fff" stroke="#3aa5e4" stroke-width="0.7"/><path d="M352.90 352.41L355.00 356.01L350.80 356.01Z" fill="#fff" stroke="#3aa5e4" stroke-width="0.7"/><path d="M356.20 351.14L358.30 354.74L354.10 354.74Z" fill="#fff" stroke="#3aa5e4" stroke-width="0.7"/><path d="M359.50 349.05L361.60 352.65L357.40 352.65Z" fill="#fff" stroke="#3aa5e4" stroke-width="0.7"/><path d="M362.80 345.62L364.90 349.22L360.70 349.22Z" fill="#fff" stroke="#3aa5e4" stroke-width="0.7"/><path d="M366.10 340.00L368.20 343.60L364.00 343.60Z" fill="#fff" stroke="#3aa5e4" stroke-width="0.7"/>
<path d="M151.60 356.70L154.90 356.70L158.20 356.70L161.50 356.70L164.80 356.70L168.10 356.70L171.40 356.70L174.70 356.70L178.00 356.70L181.30 356.70L184.60 356.70L187.90 356.70L191.20 356.70L194.50 356.70L197.80 356.70L201.10 356.70L204.40 356.70L207.70 356.70L211.00 356.70L214.30 356.70L217.60 356.70L220.90 356.70L224.20 356.70L227.50 356.70L230.80 356.70L234.10 356.70L237.40 356.70L240.70 356.70L244.00 356.70L247.30 356.70L250.60 356.70L253.90 356.70L257.20 356.70L260.50 356.70L263.80 356.70L267.10 356.70L270.40 356.70L273.70 356.70L277.00 356.70L280.30 356.70L283.60 356.70L286.90 356.70L290.20 356.70L293.50 356.70L296.80 356.70L300.10 356.70L303.40 356.70L306.70 356.70L310.00 356.69L313.30 356.69L316.60 356.68L319.90 356.67L323.20 356.66L326.50 356.63L329.80 356.59L333.10 356.53L336.40 356.43L339.70 356.28L343.00 356.03L346.30 355.64L349.60 355.01L352.90 354.02L356.20 352.45L359.50 349.95L362.80 345.99L366.10 339.70" fill="none" stroke="#cfcfcf" stroke-width="0.9"/>
<path d="M151.60 356.70L154.90 356.70L158.20 356.70L161.50 356.70L164.80 356.70L168.10 356.70L171.40 356.70L174.70 356.70L178.00 356.70L181.30 356.70L184.60 356.70L187.90 356.70L191.20 356.70L194.50 356.70L197.80 356.70L201.10 356.70L204.40 356.70L207.70 356.70L211.00 356.70L214.30 356.70L217.60 356.70L220.90 356.70L224.20 356.70L227.50 356.70L230.80 356.70L234.10 356.70L237.40 356.70L240.70 356.70L244.00 356.70L247.30 356.70L250.60 356.70L253.90 356.70L257.20 356.70L260.50 356.70L263.80 356.70L267.10 356.70L270.40 356.70L273.70 356.70L277.00 356.70L280.30 356.70L283.60 356.70L286.90 356.70L290.20 356.70L293.50 356.70L296.80 356.69L300.10 356.69L303.40 356.68L306.70 356.67L310.00 356.65L313.30 356.63L316.60 356.59L319.90 356.53L323.20 356.43L326.50 356.28L329.80 356.04L333.10 355.67L336.40 355.09L339.70 354.19L343.00 352.78L346.30 350.58L349.60 347.14L352.90 341.77L356.20 333.39L359.50 320.31L362.80 299.89L366.10 268.00" fill="none" stroke="#cccccc" stroke-width="0.9"/>
<path d="M151.60 356.70L154.90 356.70L158.20 356.70L161.50 356.70L164.80 356.70L168.10 356.70L171.40 356.70L174.70 356.70L178.00 356.70L181.30 356.70L184.60 356.70L187.90 356.70L191.20 356.70L194.50 356.70L197.80 356.70L201.10 356.70L204.40 356.70L207.70 356.70L211.00 356.70L214.30 356.70L217.60 356.70L220.90 356.70L224.20 356.70L227.50 356.70L230.80 356.70L234.10 356.70L237.40 356.70L240.70 356.70L244.00 356.70L247.30 356.70L250.60 356.70L253.90 356.70L257.20 356.70L260.50 356.70L263.80 356.70L267.10 356.70L270.40 356.70L273.70 356.70L277.00 356.70L280.30 356.70L283.60 356.70L286.90 356.70L290.20 356.70L293.50 356.70L296.80 356.70L300.10 356.70L303.40 356.70L306.70 356.70L310.00 356.70L313.30 356.70L316.60 356.70L319.90 356.70L323.20 356.70L326.50 356.69L329.80 356.69L333.10 356.68L336.40 356.67L339.70 356.65L343.00 356.61L346.30 356.55L349.60 356.43L352.90 356.23L356.20 355.88L359.50 355.27L362.80 354.19L366.10 352.30" fill="none" stroke="#111" stroke-width="0.9"/><circle cx="151.60" cy="356.70" r="1.00" fill="#111"/><circle cx="154.90" cy="356.70" r="1.00" fill="#111"/><circle cx="158.20" cy="356.70" r="1.00" fill="#111"/><circle cx="161.50" cy="356.70" r="1.00" fill="#111"/><circle cx="164.80" cy="356.70" r="1.00" fill="#111"/><circle cx="168.10" cy="356.70" r="1.00" fill="#111"/><circle cx="171.40" cy="356.70" r="1.00" fill="#111"/><circle cx="174.70" cy="356.70" r="1.00" fill="#111"/><circle cx="178.00" cy="356.70" r="1.00" fill="#111"/><circle cx="181.30" cy="356.70" r="1.00" fill="#111"/><circle cx="184.60" cy="356.70" r="1.00" fill="#111"/><circle cx="187.90" cy="356.70" r="1.00" fill="#111"/><circle cx="191.20" cy="356.70" r="1.00" fill="#111"/><circle cx="194.50" cy="356.70" r="1.00" fill="#111"/><circle cx="197.80" cy="356.70" r="1.00" fill="#111"/><circle cx="201.10" cy="356.70" r="1.00" fill="#111"/><circle cx="204.40" cy="356.70" r="1.00" fill="#111"/><circle cx="207.70" cy="356.70" r="1.00" fill="#111"/><circle cx="211.00" cy="356.70" r="1.00" fill="#111"/><circle cx="214.30" cy="356.70" r="1.00" fill="#111"/><circle cx="217.60" cy="356.70" r="1.00" fill="#111"/><circle cx="220.90" cy="356.70" r="1.00" fill="#111"/><circle cx="224.20" cy="356.70" r="1.00" fill="#111"/><circle cx="227.50" cy="356.70" r="1.00" fill="#111"/><circle cx="230.80" cy="356.70" r="1.00" fill="#111"/><circle cx="234.10" cy="356.70" r="1.00" fill="#111"/><circle cx="237.40" cy="356.70" r="1.00" fill="#111"/><circle cx="240.70" cy="356.70" r="1.00" fill="#111"/><circle cx="244.00" cy="356.70" r="1.00" fill="#111"/><circle cx="247.30" cy="356.70" r="1.00" fill="#111"/><circle cx="250.60" cy="356.70" r="1.00" fill="#111"/><circle cx="253.90" cy="356.70" r="1.00" fill="#111"/><circle cx="257.20" cy="356.70" r="1.00" fill="#111"/><circle cx="260.50" cy="356.70" r="1.00" fill="#111"/><circle cx="263.80" cy="356.70" r="1.00" fill="#111"/><circle cx="267.10" cy="356.70" r="1.00" fill="#111"/><circle cx="270.40" cy="356.70" r="1.00" fill="#111"/><circle cx="273.70" cy="356.70" r="1.00" fill="#111"/><circle cx="277.00" cy="356.70" r="1.00" fill="#111"/><circle cx="280.30" cy="356.70" r="1.00" fill="#111"/><circle cx="283.60" cy="356.70" r="1.00" fill="#111"/><circle cx="286.90" cy="356.70" r="1.00" fill="#111"/><circle cx="290.20" cy="356.70" r="1.00" fill="#111"/><circle cx="293.50" cy="356.70" r="1.00" fill="#111"/><circle cx="296.80" cy="356.70" r="1.00" fill="#111"/><circle cx="300.10" cy="356.70" r="1.00" fill="#111"/><circle cx="303.40" cy="356.70" r="1.00" fill="#111"/><circle cx="306.70" cy="356.70" r="1.00" fill="#111"/><circle cx="310.00" cy="356.70" r="1.00" fill="#111"/><circle cx="313.30" cy="356.70" r="1.00" fill="#111"/><circle cx="316.60" cy="356.70" r="1.00" fill="#111"/><circle cx="319.90" cy="356.70" r="1.00" fill="#111"/><circle cx="323.20" cy="356.70" r="1.00" fill="#111"/><circle cx="326.50" cy="356.69" r="1.00" fill="#111"/><circle cx="329.80" cy="356.69" r="1.00" fill="#111"/><circle cx="333.10" cy="356.68" r="1.00" fill="#111"/><circle cx="336.40" cy="356.67" r="1.00" fill="#111"/><circle cx="339.70" cy="356.65" r="1.00" fill="#111"/><circle cx="343.00" cy="356.61" r="1.01" fill="#111"/><circle cx="346.30" cy="356.55" r="1.02" fill="#111"/><circle cx="349.60" cy="356.43" r="1.03" fill="#111"/><circle cx="352.90" cy="356.23" r="1.05" fill="#111"/><circle cx="356.20" cy="355.88" r="1.08" fill="#111"/><circle cx="359.50" cy="355.27" r="1.14" fill="#111"/><circle cx="362.80" cy="354.19" r="1.25" fill="#111"/><circle cx="366.10" cy="352.30" r="1.30" fill="#111"/>
<path d="M151.60 356.70L154.90 356.70L158.20 356.70L161.50 356.70L164.80 356.70L168.10 356.70L171.40 356.70L174.70 356.70L178.00 356.70L181.30 356.70L184.60 356.70L187.90 356.70L191.20 356.70L194.50 356.70L197.80 356.70L201.10 356.70L204.40 356.70L207.70 356.70L211.00 356.70L214.30 356.70L217.60 356.70L220.90 356.70L224.20 356.70L227.50 356.70L230.80 356.70L234.10 356.70L237.40 356.70L240.70 356.70L244.00 356.70L247.30 356.70L250.60 356.70L253.90 356.70L257.20 356.70L260.50 356.70L263.80 356.70L267.10 356.70L270.40 356.70L273.70 356.70L277.00 356.70L280.30 356.70L283.60 356.70L286.90 356.70L290.20 356.70L293.50 356.70L296.80 356.70L300.10 356.70L303.40 356.69L306.70 356.69L310.00 356.69L313.30 356.68L316.60 356.67L319.90 356.65L323.20 356.62L326.50 356.57L329.80 356.50L333.10 356.39L336.40 356.21L339.70 355.93L343.00 355.50L346.30 354.83L349.60 353.78L352.90 352.14L356.20 349.58L359.50 345.58L362.80 339.34L366.10 329.60" fill="none" stroke="#111" stroke-width="0.9"/><circle cx="151.60" cy="356.70" r="1.00" fill="#111"/><circle cx="154.90" cy="356.70" r="1.00" fill="#111"/><circle cx="158.20" cy="356.70" r="1.00" fill="#111"/><circle cx="161.50" cy="356.70" r="1.00" fill="#111"/><circle cx="164.80" cy="356.70" r="1.00" fill="#111"/><circle cx="168.10" cy="356.70" r="1.00" fill="#111"/><circle cx="171.40" cy="356.70" r="1.00" fill="#111"/><circle cx="174.70" cy="356.70" r="1.00" fill="#111"/><circle cx="178.00" cy="356.70" r="1.00" fill="#111"/><circle cx="181.30" cy="356.70" r="1.00" fill="#111"/><circle cx="184.60" cy="356.70" r="1.00" fill="#111"/><circle cx="187.90" cy="356.70" r="1.00" fill="#111"/><circle cx="191.20" cy="356.70" r="1.00" fill="#111"/><circle cx="194.50" cy="356.70" r="1.00" fill="#111"/><circle cx="197.80" cy="356.70" r="1.00" fill="#111"/><circle cx="201.10" cy="356.70" r="1.00" fill="#111"/><circle cx="204.40" cy="356.70" r="1.00" fill="#111"/><circle cx="207.70" cy="356.70" r="1.00" fill="#111"/><circle cx="211.00" cy="356.70" r="1.00" fill="#111"/><circle cx="214.30" cy="356.70" r="1.00" fill="#111"/><circle cx="217.60" cy="356.70" r="1.00" fill="#111"/><circle cx="220.90" cy="356.70" r="1.00" fill="#111"/><circle cx="224.20" cy="356.70" r="1.00" fill="#111"/><circle cx="227.50" cy="356.70" r="1.00" fill="#111"/><circle cx="230.80" cy="356.70" r="1.00" fill="#111"/><circle cx="234.10" cy="356.70" r="1.00" fill="#111"/><circle cx="237.40" cy="356.70" r="1.00" fill="#111"/><circle cx="240.70" cy="356.70" r="1.00" fill="#111"/><circle cx="244.00" cy="356.70" r="1.00" fill="#111"/><circle cx="247.30" cy="356.70" r="1.00" fill="#111"/><circle cx="250.60" cy="356.70" r="1.00" fill="#111"/><circle cx="253.90" cy="356.70" r="1.00" fill="#111"/><circle cx="257.20" cy="356.70" r="1.00" fill="#111"/><circle cx="260.50" cy="356.70" r="1.00" fill="#111"/><circle cx="263.80" cy="356.70" r="1.00" fill="#111"/><circle cx="267.10" cy="356.70" r="1.00" fill="#111"/><circle cx="270.40" cy="356.70" r="1.00" fill="#111"/><circle cx="273.70" cy="356.70" r="1.00" fill="#111"/><circle cx="277.00" cy="356.70" r="1.00" fill="#111"/><circle cx="280.30" cy="356.70" r="1.00" fill="#111"/><circle cx="283.60" cy="356.70" r="1.00" fill="#111"/><circle cx="286.90" cy="356.70" r="1.00" fill="#111"/><circle cx="290.20" cy="356.70" r="1.00" fill="#111"/><circle cx="293.50" cy="356.70" r="1.00" fill="#111"/><circle cx="296.80" cy="356.70" r="1.00" fill="#111"/><circle cx="300.10" cy="356.70" r="1.00" fill="#111"/><circle cx="303.40" cy="356.69" r="1.00" fill="#111"/><circle cx="306.70" cy="356.69" r="1.00" fill="#111"/><circle cx="310.00" cy="356.69" r="1.00" fill="#111"/><circle cx="313.30" cy="356.68" r="1.00" fill="#111"/><circle cx="316.60" cy="356.67" r="1.00" fill="#111"/><circle cx="319.90" cy="356.65" r="1.01" fill="#111"/><circle cx="323.20" cy="356.62" r="1.01" fill="#111"/><circle cx="326.50" cy="356.57" r="1.01" fill="#111"/><circle cx="329.80" cy="356.50" r="1.02" fill="#111"/><circle cx="333.10" cy="356.39" r="1.03" fill="#111"/><circle cx="336.40" cy="356.21" r="1.05" fill="#111"/><circle cx="339.70" cy="355.93" r="1.08" fill="#111"/><circle cx="343.00" cy="355.50" r="1.12" fill="#111"/><circle cx="346.30" cy="354.83" r="1.19" fill="#111"/><circle cx="349.60" cy="353.78" r="1.29" fill="#111"/><circle cx="352.90" cy="352.14" r="1.30" fill="#111"/><circle cx="356.20" cy="349.58" r="1.30" fill="#111"/><circle cx="359.50" cy="345.58" r="1.30" fill="#111"/><circle cx="362.80" cy="339.34" r="1.30" fill="#111"/><circle cx="366.10" cy="329.60" r="1.30" fill="#111"/>
<path d="M151.60 356.70L154.90 356.70L158.20 356.70L161.50 356.70L164.80 356.70L168.10 356.70L171.40 356.70L174.70 356.70L178.00 356.70L181.30 356.70L184.60 356.70L187.90 356.70L191.20 356.70L194.50 356.70L197.80 356.70L201.10 356.70L204.40 356.70L207.70 356.70L211.00 356.70L214.30 356.70L217.60 356.70L220.90 356.70L224.20 356.70L227.50 356.70L230.80 356.70L234.10 356.70L237.40 356.70L240.70 356.70L244.00 356.70L247.30 356.70L250.60 356.70L253.90 356.70L257.20 356.70L260.50 356.70L263.80 356.70L267.10 356.70L270.40 356.70L273.70 356.70L277.00 356.69L280.30 356.69L283.60 356.69L286.90 356.68L290.20 356.67L293.50 356.66L296.80 356.64L300.10 356.62L303.40 356.58L306.70 356.53L310.00 356.46L313.30 356.35L316.60 356.20L319.90 355.99L323.20 355.68L326.50 355.25L329.80 354.62L333.10 353.73L336.40 352.46L339.70 350.65L343.00 348.06L346.30 344.36L349.60 339.08L352.90 331.53L356.20 320.76L359.50 305.37L362.80 283.39L366.10 252.00" fill="none" stroke="#111" stroke-width="0.9"/><circle cx="151.60" cy="356.70" r="1.00" fill="#111"/><circle cx="154.90" cy="356.70" r="1.00" fill="#111"/><circle cx="158.20" cy="356.70" r="1.00" fill="#111"/><circle cx="161.50" cy="356.70" r="1.00" fill="#111"/><circle cx="164.80" cy="356.70" r="1.00" fill="#111"/><circle cx="168.10" cy="356.70" r="1.00" fill="#111"/><circle cx="171.40" cy="356.70" r="1.00" fill="#111"/><circle cx="174.70" cy="356.70" r="1.00" fill="#111"/><circle cx="178.00" cy="356.70" r="1.00" fill="#111"/><circle cx="181.30" cy="356.70" r="1.00" fill="#111"/><circle cx="184.60" cy="356.70" r="1.00" fill="#111"/><circle cx="187.90" cy="356.70" r="1.00" fill="#111"/><circle cx="191.20" cy="356.70" r="1.00" fill="#111"/><circle cx="194.50" cy="356.70" r="1.00" fill="#111"/><circle cx="197.80" cy="356.70" r="1.00" fill="#111"/><circle cx="201.10" cy="356.70" r="1.00" fill="#111"/><circle cx="204.40" cy="356.70" r="1.00" fill="#111"/><circle cx="207.70" cy="356.70" r="1.00" fill="#111"/><circle cx="211.00" cy="356.70" r="1.00" fill="#111"/><circle cx="214.30" cy="356.70" r="1.00" fill="#111"/><circle cx="217.60" cy="356.70" r="1.00" fill="#111"/><circle cx="220.90" cy="356.70" r="1.00" fill="#111"/><circle cx="224.20" cy="356.70" r="1.00" fill="#111"/><circle cx="227.50" cy="356.70" r="1.00" fill="#111"/><circle cx="230.80" cy="356.70" r="1.00" fill="#111"/><circle cx="234.10" cy="356.70" r="1.00" fill="#111"/><circle cx="237.40" cy="356.70" r="1.00" fill="#111"/><circle cx="240.70" cy="356.70" r="1.00" fill="#111"/><circle cx="244.00" cy="356.70" r="1.00" fill="#111"/><circle cx="247.30" cy="356.70" r="1.00" fill="#111"/><circle cx="250.60" cy="356.70" r="1.00" fill="#111"/><circle cx="253.90" cy="356.70" r="1.00" fill="#111"/><circle cx="257.20" cy="356.70" r="1.00" fill="#111"/><circle cx="260.50" cy="356.70" r="1.00" fill="#111"/><circle cx="263.80" cy="356.70" r="1.00" fill="#111"/><circle cx="267.10" cy="356.70" r="1.00" fill="#111"/><circle cx="270.40" cy="356.70" r="1.00" fill="#111"/><circle cx="273.70" cy="356.70" r="1.00" fill="#111"/><circle cx="277.00" cy="356.69" r="1.00" fill="#111"/><circle cx="280.30" cy="356.69" r="1.00" fill="#111"/><circle cx="283.60" cy="356.69" r="1.00" fill="#111"/><circle cx="286.90" cy="356.68" r="1.00" fill="#111"/><circle cx="290.20" cy="356.67" r="1.00" fill="#111"/><circle cx="293.50" cy="356.66" r="1.00" fill="#111"/><circle cx="296.80" cy="356.64" r="1.01" fill="#111"/><circle cx="300.10" cy="356.62" r="1.01" fill="#111"/><circle cx="303.40" cy="356.58" r="1.01" fill="#111"/><circle cx="306.70" cy="356.53" r="1.02" fill="#111"/><circle cx="310.00" cy="356.46" r="1.02" fill="#111"/><circle cx="313.30" cy="356.35" r="1.03" fill="#111"/><circle cx="316.60" cy="356.20" r="1.05" fill="#111"/><circle cx="319.90" cy="355.99" r="1.07" fill="#111"/><circle cx="323.20" cy="355.68" r="1.10" fill="#111"/><circle cx="326.50" cy="355.25" r="1.15" fill="#111"/><circle cx="329.80" cy="354.62" r="1.21" fill="#111"/><circle cx="333.10" cy="353.73" r="1.30" fill="#111"/><circle cx="336.40" cy="352.46" r="1.30" fill="#111"/><circle cx="339.70" cy="350.65" r="1.30" fill="#111"/><circle cx="343.00" cy="348.06" r="1.30" fill="#111"/><circle cx="346.30" cy="344.36" r="1.30" fill="#111"/><circle cx="349.60" cy="339.08" r="1.30" fill="#111"/><circle cx="352.90" cy="331.53" r="1.30" fill="#111"/><circle cx="356.20" cy="320.76" r="1.30" fill="#111"/><circle cx="359.50" cy="305.37" r="1.30" fill="#111"/><circle cx="362.80" cy="283.39" r="1.30" fill="#111"/><circle cx="366.10" cy="252.00" r="1.30" fill="#111"/>
<path d="M148.2 207.05H366.3V357.0" fill="none" stroke="#4a4a4a" stroke-width="1.05"/>
<path d="M148.2 206.55V357.0H366.8" fill="none" stroke="#161616" stroke-width="1.3"/>
<line x1="148.2" y1="307.02" x2="151.2" y2="307.02" stroke="#161616" stroke-width="1.1"/>
<line x1="148.2" y1="257.03" x2="151.2" y2="257.03" stroke="#161616" stroke-width="1.1"/>
<line x1="220.83" y1="357.0" x2="220.83" y2="354.5" stroke="#161616" stroke-width="1.1"/>
<line x1="293.47" y1="357.0" x2="293.47" y2="354.5" stroke="#161616" stroke-width="1.1"/>
<g font-size="12.5px">
<text transform="translate(145 360.60) scale(0.925 1)" font-size="13.5px" text-anchor="end">0</text>
<text transform="translate(145 310.62) scale(0.925 1)" font-size="13.5px" text-anchor="end">0.0002</text>
<text transform="translate(145 260.63) scale(0.925 1)" font-size="13.5px" text-anchor="end">0.0004</text>
<text transform="translate(145 210.65) scale(0.925 1)" font-size="13.5px" text-anchor="end">0.0006</text>
<text transform="translate(148.20 370.2) scale(0.925 1)" font-size="13.5px" text-anchor="middle">0</text>
<text transform="translate(220.83 370.2) scale(0.925 1)" font-size="13.5px" text-anchor="middle">0.15</text>
<text transform="translate(293.47 370.2) scale(0.925 1)" font-size="13.5px" text-anchor="middle">0.30</text>
<text transform="translate(366.10 370.2) scale(0.925 1)" font-size="13.5px" text-anchor="middle">0.45</text>
<text x="154.4" y="383.6" font-size="12.55px">Soil volumetric water content(cm<tspan font-size="9.3px" dy="-5">3</tspan><tspan dy="5"> cm</tspan><tspan font-size="9.3px" dy="-5" dx="0.8">−3</tspan><tspan dy="5">)</tspan></text>
<text transform="translate(88.5 284.1) rotate(-90) scale(0.963 1)" font-size="13.3px" text-anchor="middle">Unsaturated hydraulic</text>
<text transform="translate(106.4 281.9) rotate(-90) scale(0.958 1)" font-size="13.3px" text-anchor="middle">conductivity (cm min<tspan font-size="9px" dy="-5.2">−1</tspan><tspan dy="5.2">)</tspan></text>
</g>
</g>
</svg>
</body></html>
